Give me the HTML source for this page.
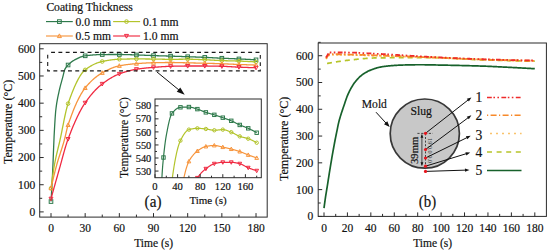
<!DOCTYPE html>
<html><head><meta charset="utf-8"><style>
html,body{margin:0;padding:0;background:#fff;width:550px;height:251px;overflow:hidden}
svg{display:block}
text{stroke:#111;stroke-width:0.18px;paint-order:fill}
</style></head><body>
<svg width="550" height="251" viewBox="0 0 550 251" font-family='"Liberation Serif", serif'>
<rect width="550" height="251" fill="#ffffff"/>
<defs><clipPath id="cl"><rect x="39.70" y="43.70" width="227.50" height="173.40"/></clipPath>
<clipPath id="ci"><rect x="155.00" y="99.00" width="106.30" height="78.70"/></clipPath>
<clipPath id="cr"><rect x="318.20" y="43.00" width="228.20" height="173.40"/></clipPath>
<marker id="ahs" viewBox="0 0 10 10" refX="9" refY="5" markerWidth="3.5" markerHeight="3.5" orient="auto-start-reverse" markerUnits="userSpaceOnUse"><path d="M0,1 L10,5 L0,9 Z" fill="#111"/></marker>
<marker id="ah" viewBox="0 0 10 10" refX="9" refY="5" markerWidth="6" markerHeight="6" orient="auto-start-reverse" markerUnits="userSpaceOnUse"><path d="M0,1 L10,5 L0,9 Z" fill="#111"/></marker>
</defs>
<g clip-path="url(#cl)">
<path d="M51.00,201.57 L51.51,193.45 L52.03,184.40 L52.54,174.30 L53.06,162.09 L53.57,148.95 L54.08,136.70 L54.60,126.93 L55.11,118.50 L55.62,111.79 L56.14,107.30 L56.65,103.66 L57.17,100.59 L57.68,97.92 L58.19,95.45 L58.71,93.02 L59.22,90.68 L59.74,88.49 L60.25,86.43 L60.76,84.46 L61.28,82.56 L61.79,80.68 L62.30,78.81 L62.82,76.90 L63.33,74.85 L63.85,72.72 L64.36,70.80 L64.87,69.38 L65.39,68.40 L65.90,67.57 L66.42,66.86 L66.93,66.24 L67.44,65.68 L67.96,65.14 L68.47,64.61 L68.98,64.11 L69.50,63.62 L70.01,63.15 L70.53,62.71 L71.04,62.29 L71.55,61.88 L72.07,61.51 L72.58,61.15 L73.09,60.82 L73.61,60.51 L74.12,60.22 L74.64,59.94 L75.15,59.66 L75.66,59.38 L76.18,59.11 L76.69,58.84 L77.21,58.58 L77.72,58.32 L78.23,58.08 L78.75,57.84 L79.26,57.60 L79.77,57.38 L80.29,57.17 L80.80,56.97 L81.32,56.78 L81.83,56.61 L82.34,56.45 L82.86,56.30 L83.37,56.16 L83.89,56.05 L84.40,55.94 L84.91,55.86 L85.43,55.79 L85.94,55.72 L86.45,55.66 L86.97,55.59 L87.48,55.53 L88.00,55.47 L88.51,55.41 L89.02,55.36 L89.54,55.30 L90.05,55.25 L90.57,55.20 L91.08,55.15 L91.59,55.10 L92.11,55.05 L92.62,55.01 L93.13,54.97 L93.65,54.92 L94.16,54.89 L94.68,54.85 L95.19,54.81 L95.70,54.78 L96.22,54.75 L96.73,54.72 L97.25,54.69 L97.76,54.67 L98.27,54.65 L98.79,54.63 L99.30,54.61 L99.81,54.59 L100.33,54.58 L100.84,54.57 L101.36,54.56 L101.87,54.56 L102.38,54.55 L102.90,54.55 L103.41,54.55 L103.92,54.54 L104.44,54.54 L104.95,54.54 L105.47,54.53 L105.98,54.53 L106.49,54.53 L107.01,54.53 L107.52,54.53 L108.04,54.52 L108.55,54.52 L109.06,54.52 L109.58,54.52 L110.09,54.52 L110.60,54.51 L111.12,54.51 L111.63,54.51 L112.15,54.51 L112.66,54.51 L113.17,54.51 L113.69,54.50 L114.20,54.50 L114.72,54.50 L115.23,54.50 L115.74,54.50 L116.26,54.50 L116.77,54.50 L117.28,54.50 L117.80,54.50 L118.31,54.50 L118.83,54.50 L119.34,54.50 L119.85,54.50 L120.37,54.50 L120.88,54.50 L121.40,54.51 L121.91,54.51 L122.42,54.52 L122.94,54.53 L123.45,54.54 L123.96,54.55 L124.48,54.56 L124.99,54.57 L125.51,54.58 L126.02,54.60 L126.53,54.61 L127.05,54.62 L127.56,54.64 L128.08,54.65 L128.59,54.67 L129.10,54.69 L129.62,54.70 L130.13,54.72 L130.64,54.74 L131.16,54.76 L131.67,54.77 L132.19,54.79 L132.70,54.81 L133.21,54.83 L133.73,54.84 L134.24,54.86 L134.76,54.88 L135.27,54.89 L135.78,54.91 L136.30,54.93 L136.81,54.94 L137.32,54.96 L137.84,54.98 L138.35,54.99 L138.87,55.01 L139.38,55.03 L139.89,55.05 L140.41,55.07 L140.92,55.09 L141.43,55.11 L141.95,55.13 L142.46,55.16 L142.98,55.18 L143.49,55.20 L144.00,55.22 L144.52,55.24 L145.03,55.26 L145.55,55.29 L146.06,55.31 L146.57,55.33 L147.09,55.35 L147.60,55.37 L148.11,55.40 L148.63,55.42 L149.14,55.44 L149.66,55.46 L150.17,55.48 L150.68,55.50 L151.20,55.52 L151.71,55.54 L152.23,55.56 L152.74,55.58 L153.25,55.60 L153.77,55.62 L154.28,55.63 L154.79,55.65 L155.31,55.67 L155.82,55.68 L156.34,55.70 L156.85,55.71 L157.36,55.73 L157.88,55.75 L158.39,55.76 L158.91,55.78 L159.42,55.79 L159.93,55.81 L160.45,55.82 L160.96,55.84 L161.47,55.85 L161.99,55.87 L162.50,55.88 L163.02,55.89 L163.53,55.91 L164.04,55.92 L164.56,55.94 L165.07,55.95 L165.59,55.97 L166.10,55.98 L166.61,56.00 L167.13,56.01 L167.64,56.03 L168.15,56.04 L168.67,56.06 L169.18,56.07 L169.70,56.09 L170.21,56.11 L170.72,56.12 L171.24,56.14 L171.75,56.16 L172.26,56.17 L172.78,56.19 L173.29,56.21 L173.81,56.23 L174.32,56.24 L174.83,56.26 L175.35,56.28 L175.86,56.29 L176.38,56.31 L176.89,56.33 L177.40,56.35 L177.92,56.37 L178.43,56.38 L178.94,56.40 L179.46,56.42 L179.97,56.44 L180.49,56.46 L181.00,56.47 L181.51,56.49 L182.03,56.51 L182.54,56.53 L183.06,56.55 L183.57,56.57 L184.08,56.58 L184.60,56.60 L185.11,56.62 L185.62,56.64 L186.14,56.66 L186.65,56.68 L187.17,56.70 L187.68,56.71 L188.19,56.73 L188.71,56.75 L189.22,56.77 L189.74,56.79 L190.25,56.81 L190.76,56.83 L191.28,56.84 L191.79,56.86 L192.30,56.88 L192.82,56.90 L193.33,56.92 L193.85,56.94 L194.36,56.95 L194.87,56.97 L195.39,56.99 L195.90,57.01 L196.42,57.03 L196.93,57.05 L197.44,57.07 L197.96,57.09 L198.47,57.11 L198.98,57.13 L199.50,57.15 L200.01,57.17 L200.53,57.19 L201.04,57.21 L201.55,57.23 L202.07,57.25 L202.58,57.27 L203.10,57.29 L203.61,57.31 L204.12,57.33 L204.64,57.36 L205.15,57.38 L205.66,57.40 L206.18,57.43 L206.69,57.45 L207.21,57.47 L207.72,57.50 L208.23,57.52 L208.75,57.55 L209.26,57.58 L209.77,57.60 L210.29,57.63 L210.80,57.66 L211.32,57.68 L211.83,57.71 L212.34,57.74 L212.86,57.77 L213.37,57.79 L213.89,57.82 L214.40,57.85 L214.91,57.88 L215.43,57.90 L215.94,57.93 L216.45,57.96 L216.97,57.99 L217.48,58.01 L218.00,58.04 L218.51,58.07 L219.02,58.09 L219.54,58.12 L220.05,58.14 L220.57,58.17 L221.08,58.19 L221.59,58.22 L222.11,58.24 L222.62,58.26 L223.13,58.28 L223.65,58.31 L224.16,58.33 L224.68,58.35 L225.19,58.37 L225.70,58.39 L226.22,58.41 L226.73,58.43 L227.25,58.45 L227.76,58.47 L228.27,58.49 L228.79,58.51 L229.30,58.53 L229.81,58.55 L230.33,58.57 L230.84,58.59 L231.36,58.61 L231.87,58.63 L232.38,58.65 L232.90,58.67 L233.41,58.69 L233.93,58.71 L234.44,58.73 L234.95,58.76 L235.47,58.78 L235.98,58.80 L236.49,58.82 L237.01,58.84 L237.52,58.87 L238.04,58.89 L238.55,58.91 L239.06,58.94 L239.58,58.96 L240.09,58.98 L240.60,59.01 L241.12,59.03 L241.63,59.06 L242.15,59.08 L242.66,59.11 L243.17,59.14 L243.69,59.16 L244.20,59.19 L244.72,59.21 L245.23,59.24 L245.74,59.27 L246.26,59.29 L246.77,59.32 L247.28,59.35 L247.80,59.38 L248.31,59.41 L248.83,59.43 L249.34,59.46 L249.85,59.49 L250.37,59.52 L250.88,59.55 L251.40,59.58 L251.91,59.61 L252.42,59.64 L252.94,59.67 L253.45,59.70 L253.96,59.73 L254.48,59.76 L254.99,59.79 L255.51,59.82 L256.02,59.85" fill="none" stroke="#2f7a4c" stroke-width="1.3"/>
<rect x="49.20" y="199.77" width="3.60" height="3.60" fill="none" stroke="#2f7a4c" stroke-width="1"/>
<rect x="66.29" y="63.21" width="3.60" height="3.60" fill="none" stroke="#2f7a4c" stroke-width="1"/>
<rect x="83.37" y="54.02" width="3.60" height="3.60" fill="none" stroke="#2f7a4c" stroke-width="1"/>
<rect x="100.45" y="52.75" width="3.60" height="3.60" fill="none" stroke="#2f7a4c" stroke-width="1"/>
<rect x="117.54" y="52.70" width="3.60" height="3.60" fill="none" stroke="#2f7a4c" stroke-width="1"/>
<rect x="134.62" y="53.13" width="3.60" height="3.60" fill="none" stroke="#2f7a4c" stroke-width="1"/>
<rect x="151.71" y="53.81" width="3.60" height="3.60" fill="none" stroke="#2f7a4c" stroke-width="1"/>
<rect x="168.79" y="54.32" width="3.60" height="3.60" fill="none" stroke="#2f7a4c" stroke-width="1"/>
<rect x="185.88" y="54.91" width="3.60" height="3.60" fill="none" stroke="#2f7a4c" stroke-width="1"/>
<rect x="202.97" y="55.56" width="3.60" height="3.60" fill="none" stroke="#2f7a4c" stroke-width="1"/>
<rect x="220.05" y="56.43" width="3.60" height="3.60" fill="none" stroke="#2f7a4c" stroke-width="1"/>
<rect x="237.13" y="57.13" width="3.60" height="3.60" fill="none" stroke="#2f7a4c" stroke-width="1"/>
<rect x="254.22" y="58.05" width="3.60" height="3.60" fill="none" stroke="#2f7a4c" stroke-width="1"/>
<path d="M51.00,188.21 L51.51,184.29 L52.03,180.48 L52.54,176.80 L53.06,173.29 L53.57,169.96 L54.08,166.86 L54.60,164.00 L55.11,161.34 L55.62,158.84 L56.14,156.47 L56.65,154.21 L57.17,152.02 L57.68,149.89 L58.19,147.77 L58.71,145.65 L59.22,143.49 L59.74,141.28 L60.25,138.98 L60.76,136.58 L61.28,134.10 L61.79,131.56 L62.30,128.98 L62.82,126.39 L63.33,123.80 L63.85,121.23 L64.36,118.71 L64.87,116.25 L65.39,113.88 L65.90,111.61 L66.42,109.47 L66.93,107.48 L67.44,105.65 L67.96,104.02 L68.47,102.54 L68.98,101.08 L69.50,99.64 L70.01,98.23 L70.53,96.84 L71.04,95.47 L71.55,94.12 L72.07,92.80 L72.58,91.50 L73.09,90.24 L73.61,88.99 L74.12,87.78 L74.64,86.59 L75.15,85.43 L75.66,84.31 L76.18,83.21 L76.69,82.15 L77.21,81.11 L77.72,80.12 L78.23,79.15 L78.75,78.22 L79.26,77.33 L79.77,76.47 L80.29,75.65 L80.80,74.87 L81.32,74.13 L81.83,73.42 L82.34,72.76 L82.86,72.14 L83.37,71.56 L83.89,71.02 L84.40,70.53 L84.91,70.08 L85.43,69.67 L85.94,69.28 L86.45,68.89 L86.97,68.52 L87.48,68.15 L88.00,67.80 L88.51,67.45 L89.02,67.11 L89.54,66.78 L90.05,66.46 L90.57,66.15 L91.08,65.85 L91.59,65.56 L92.11,65.28 L92.62,65.01 L93.13,64.74 L93.65,64.49 L94.16,64.24 L94.68,64.00 L95.19,63.77 L95.70,63.55 L96.22,63.34 L96.73,63.14 L97.25,62.95 L97.76,62.76 L98.27,62.58 L98.79,62.42 L99.30,62.26 L99.81,62.10 L100.33,61.96 L100.84,61.83 L101.36,61.70 L101.87,61.58 L102.38,61.47 L102.90,61.36 L103.41,61.26 L103.92,61.15 L104.44,61.05 L104.95,60.95 L105.47,60.85 L105.98,60.75 L106.49,60.66 L107.01,60.57 L107.52,60.48 L108.04,60.39 L108.55,60.30 L109.06,60.22 L109.58,60.14 L110.09,60.06 L110.60,59.99 L111.12,59.91 L111.63,59.84 L112.15,59.78 L112.66,59.71 L113.17,59.65 L113.69,59.59 L114.20,59.54 L114.72,59.49 L115.23,59.44 L115.74,59.40 L116.26,59.36 L116.77,59.32 L117.28,59.29 L117.80,59.26 L118.31,59.24 L118.83,59.22 L119.34,59.20 L119.85,59.19 L120.37,59.17 L120.88,59.16 L121.40,59.14 L121.91,59.13 L122.42,59.12 L122.94,59.11 L123.45,59.09 L123.96,59.08 L124.48,59.07 L124.99,59.06 L125.51,59.05 L126.02,59.04 L126.53,59.03 L127.05,59.02 L127.56,59.01 L128.08,59.00 L128.59,58.99 L129.10,58.98 L129.62,58.98 L130.13,58.97 L130.64,58.96 L131.16,58.96 L131.67,58.95 L132.19,58.95 L132.70,58.94 L133.21,58.94 L133.73,58.94 L134.24,58.93 L134.76,58.93 L135.27,58.93 L135.78,58.93 L136.30,58.93 L136.81,58.93 L137.32,58.93 L137.84,58.93 L138.35,58.93 L138.87,58.93 L139.38,58.94 L139.89,58.94 L140.41,58.94 L140.92,58.94 L141.43,58.95 L141.95,58.95 L142.46,58.95 L142.98,58.96 L143.49,58.96 L144.00,58.97 L144.52,58.97 L145.03,58.97 L145.55,58.98 L146.06,58.98 L146.57,58.99 L147.09,59.00 L147.60,59.00 L148.11,59.01 L148.63,59.01 L149.14,59.02 L149.66,59.02 L150.17,59.03 L150.68,59.03 L151.20,59.04 L151.71,59.05 L152.23,59.05 L152.74,59.06 L153.25,59.06 L153.77,59.07 L154.28,59.07 L154.79,59.08 L155.31,59.09 L155.82,59.10 L156.34,59.10 L156.85,59.11 L157.36,59.12 L157.88,59.13 L158.39,59.14 L158.91,59.15 L159.42,59.17 L159.93,59.18 L160.45,59.19 L160.96,59.20 L161.47,59.21 L161.99,59.22 L162.50,59.23 L163.02,59.24 L163.53,59.25 L164.04,59.26 L164.56,59.27 L165.07,59.28 L165.59,59.29 L166.10,59.30 L166.61,59.30 L167.13,59.31 L167.64,59.32 L168.15,59.32 L168.67,59.33 L169.18,59.33 L169.70,59.33 L170.21,59.33 L170.72,59.33 L171.24,59.33 L171.75,59.33 L172.26,59.33 L172.78,59.33 L173.29,59.33 L173.81,59.32 L174.32,59.32 L174.83,59.31 L175.35,59.31 L175.86,59.30 L176.38,59.30 L176.89,59.29 L177.40,59.29 L177.92,59.28 L178.43,59.28 L178.94,59.27 L179.46,59.26 L179.97,59.26 L180.49,59.25 L181.00,59.25 L181.51,59.24 L182.03,59.23 L182.54,59.23 L183.06,59.22 L183.57,59.22 L184.08,59.21 L184.60,59.21 L185.11,59.21 L185.62,59.20 L186.14,59.20 L186.65,59.20 L187.17,59.20 L187.68,59.20 L188.19,59.20 L188.71,59.20 L189.22,59.21 L189.74,59.21 L190.25,59.22 L190.76,59.23 L191.28,59.24 L191.79,59.25 L192.30,59.26 L192.82,59.27 L193.33,59.29 L193.85,59.30 L194.36,59.32 L194.87,59.34 L195.39,59.36 L195.90,59.37 L196.42,59.39 L196.93,59.41 L197.44,59.43 L197.96,59.45 L198.47,59.48 L198.98,59.50 L199.50,59.52 L200.01,59.54 L200.53,59.56 L201.04,59.59 L201.55,59.61 L202.07,59.63 L202.58,59.65 L203.10,59.67 L203.61,59.69 L204.12,59.71 L204.64,59.73 L205.15,59.76 L205.66,59.78 L206.18,59.80 L206.69,59.82 L207.21,59.85 L207.72,59.87 L208.23,59.90 L208.75,59.92 L209.26,59.95 L209.77,59.98 L210.29,60.01 L210.80,60.04 L211.32,60.06 L211.83,60.09 L212.34,60.12 L212.86,60.15 L213.37,60.18 L213.89,60.21 L214.40,60.24 L214.91,60.27 L215.43,60.30 L215.94,60.33 L216.45,60.35 L216.97,60.38 L217.48,60.41 L218.00,60.43 L218.51,60.46 L219.02,60.48 L219.54,60.51 L220.05,60.53 L220.57,60.55 L221.08,60.57 L221.59,60.59 L222.11,60.61 L222.62,60.63 L223.13,60.65 L223.65,60.67 L224.16,60.68 L224.68,60.70 L225.19,60.71 L225.70,60.73 L226.22,60.74 L226.73,60.76 L227.25,60.77 L227.76,60.78 L228.27,60.80 L228.79,60.81 L229.30,60.82 L229.81,60.83 L230.33,60.85 L230.84,60.86 L231.36,60.87 L231.87,60.88 L232.38,60.90 L232.90,60.91 L233.41,60.92 L233.93,60.94 L234.44,60.95 L234.95,60.97 L235.47,60.98 L235.98,60.99 L236.49,61.01 L237.01,61.03 L237.52,61.04 L238.04,61.06 L238.55,61.08 L239.06,61.10 L239.58,61.11 L240.09,61.13 L240.60,61.15 L241.12,61.17 L241.63,61.19 L242.15,61.22 L242.66,61.24 L243.17,61.26 L243.69,61.28 L244.20,61.30 L244.72,61.33 L245.23,61.35 L245.74,61.38 L246.26,61.40 L246.77,61.42 L247.28,61.45 L247.80,61.48 L248.31,61.50 L248.83,61.53 L249.34,61.55 L249.85,61.58 L250.37,61.61 L250.88,61.64 L251.40,61.66 L251.91,61.69 L252.42,61.72 L252.94,61.75 L253.45,61.78 L253.96,61.81 L254.48,61.84 L254.99,61.87 L255.51,61.90 L256.02,61.93" fill="none" stroke="#b3c42c" stroke-width="1.3"/>
<circle cx="51.00" cy="188.21" r="1.80" fill="none" stroke="#b3c42c" stroke-width="1"/>
<circle cx="68.09" cy="103.64" r="1.80" fill="none" stroke="#b3c42c" stroke-width="1"/>
<circle cx="85.17" cy="69.87" r="1.80" fill="none" stroke="#b3c42c" stroke-width="1"/>
<circle cx="102.25" cy="61.50" r="1.80" fill="none" stroke="#b3c42c" stroke-width="1"/>
<circle cx="119.34" cy="59.20" r="1.80" fill="none" stroke="#b3c42c" stroke-width="1"/>
<circle cx="136.43" cy="58.93" r="1.80" fill="none" stroke="#b3c42c" stroke-width="1"/>
<circle cx="153.51" cy="59.06" r="1.80" fill="none" stroke="#b3c42c" stroke-width="1"/>
<circle cx="170.59" cy="59.33" r="1.80" fill="none" stroke="#b3c42c" stroke-width="1"/>
<circle cx="187.68" cy="59.20" r="1.80" fill="none" stroke="#b3c42c" stroke-width="1"/>
<circle cx="204.77" cy="59.74" r="1.80" fill="none" stroke="#b3c42c" stroke-width="1"/>
<circle cx="221.85" cy="60.60" r="1.80" fill="none" stroke="#b3c42c" stroke-width="1"/>
<circle cx="238.94" cy="61.09" r="1.80" fill="none" stroke="#b3c42c" stroke-width="1"/>
<circle cx="256.02" cy="61.93" r="1.80" fill="none" stroke="#b3c42c" stroke-width="1"/>
<path d="M51.00,188.21 L51.51,185.94 L52.03,183.70 L52.54,181.50 L53.06,179.32 L53.57,177.17 L54.08,175.06 L54.60,172.99 L55.11,170.96 L55.62,168.97 L56.14,167.03 L56.65,165.13 L57.17,163.29 L57.68,161.52 L58.19,159.81 L58.71,158.15 L59.22,156.52 L59.74,154.93 L60.25,153.35 L60.76,151.77 L61.28,150.19 L61.79,148.60 L62.30,146.97 L62.82,145.31 L63.33,143.60 L63.85,141.83 L64.36,139.99 L64.87,138.00 L65.39,135.83 L65.90,133.59 L66.42,131.34 L66.93,129.17 L67.44,127.16 L67.96,125.38 L68.47,123.83 L68.98,122.32 L69.50,120.83 L70.01,119.36 L70.53,117.92 L71.04,116.50 L71.55,115.10 L72.07,113.74 L72.58,112.40 L73.09,111.08 L73.61,109.79 L74.12,108.52 L74.64,107.29 L75.15,106.07 L75.66,104.89 L76.18,103.73 L76.69,102.60 L77.21,101.49 L77.72,100.42 L78.23,99.37 L78.75,98.34 L79.26,97.35 L79.77,96.38 L80.29,95.44 L80.80,94.53 L81.32,93.65 L81.83,92.80 L82.34,91.98 L82.86,91.18 L83.37,90.42 L83.89,89.68 L84.40,88.98 L84.91,88.30 L85.43,87.65 L85.94,87.02 L86.45,86.40 L86.97,85.79 L87.48,85.19 L88.00,84.61 L88.51,84.04 L89.02,83.48 L89.54,82.94 L90.05,82.40 L90.57,81.88 L91.08,81.37 L91.59,80.87 L92.11,80.38 L92.62,79.90 L93.13,79.43 L93.65,78.98 L94.16,78.53 L94.68,78.10 L95.19,77.68 L95.70,77.26 L96.22,76.86 L96.73,76.47 L97.25,76.08 L97.76,75.71 L98.27,75.35 L98.79,74.99 L99.30,74.65 L99.81,74.31 L100.33,73.99 L100.84,73.67 L101.36,73.36 L101.87,73.06 L102.38,72.77 L102.90,72.48 L103.41,72.20 L103.92,71.92 L104.44,71.64 L104.95,71.37 L105.47,71.10 L105.98,70.83 L106.49,70.57 L107.01,70.31 L107.52,70.05 L108.04,69.80 L108.55,69.56 L109.06,69.32 L109.58,69.08 L110.09,68.85 L110.60,68.63 L111.12,68.41 L111.63,68.20 L112.15,67.99 L112.66,67.79 L113.17,67.59 L113.69,67.40 L114.20,67.22 L114.72,67.05 L115.23,66.88 L115.74,66.72 L116.26,66.57 L116.77,66.42 L117.28,66.28 L117.80,66.16 L118.31,66.03 L118.83,65.92 L119.34,65.82 L119.85,65.72 L120.37,65.63 L120.88,65.53 L121.40,65.44 L121.91,65.35 L122.42,65.27 L122.94,65.18 L123.45,65.10 L123.96,65.02 L124.48,64.95 L124.99,64.87 L125.51,64.80 L126.02,64.73 L126.53,64.66 L127.05,64.59 L127.56,64.53 L128.08,64.47 L128.59,64.40 L129.10,64.35 L129.62,64.29 L130.13,64.23 L130.64,64.18 L131.16,64.12 L131.67,64.07 L132.19,64.02 L132.70,63.97 L133.21,63.93 L133.73,63.88 L134.24,63.84 L134.76,63.79 L135.27,63.75 L135.78,63.71 L136.30,63.67 L136.81,63.63 L137.32,63.59 L137.84,63.55 L138.35,63.51 L138.87,63.47 L139.38,63.44 L139.89,63.40 L140.41,63.36 L140.92,63.33 L141.43,63.29 L141.95,63.25 L142.46,63.22 L142.98,63.19 L143.49,63.15 L144.00,63.12 L144.52,63.09 L145.03,63.06 L145.55,63.03 L146.06,63.00 L146.57,62.97 L147.09,62.95 L147.60,62.92 L148.11,62.90 L148.63,62.87 L149.14,62.85 L149.66,62.83 L150.17,62.81 L150.68,62.79 L151.20,62.77 L151.71,62.76 L152.23,62.74 L152.74,62.73 L153.25,62.72 L153.77,62.71 L154.28,62.70 L154.79,62.69 L155.31,62.68 L155.82,62.67 L156.34,62.66 L156.85,62.65 L157.36,62.64 L157.88,62.63 L158.39,62.62 L158.91,62.61 L159.42,62.60 L159.93,62.59 L160.45,62.58 L160.96,62.58 L161.47,62.57 L161.99,62.56 L162.50,62.55 L163.02,62.55 L163.53,62.54 L164.04,62.53 L164.56,62.53 L165.07,62.52 L165.59,62.52 L166.10,62.51 L166.61,62.51 L167.13,62.51 L167.64,62.50 L168.15,62.50 L168.67,62.50 L169.18,62.50 L169.70,62.50 L170.21,62.50 L170.72,62.50 L171.24,62.50 L171.75,62.50 L172.26,62.50 L172.78,62.51 L173.29,62.51 L173.81,62.52 L174.32,62.52 L174.83,62.53 L175.35,62.54 L175.86,62.55 L176.38,62.56 L176.89,62.57 L177.40,62.58 L177.92,62.59 L178.43,62.61 L178.94,62.62 L179.46,62.63 L179.97,62.65 L180.49,62.66 L181.00,62.67 L181.51,62.69 L182.03,62.70 L182.54,62.72 L183.06,62.73 L183.57,62.74 L184.08,62.76 L184.60,62.77 L185.11,62.78 L185.62,62.80 L186.14,62.81 L186.65,62.82 L187.17,62.84 L187.68,62.85 L188.19,62.86 L188.71,62.87 L189.22,62.88 L189.74,62.89 L190.25,62.90 L190.76,62.92 L191.28,62.93 L191.79,62.94 L192.30,62.95 L192.82,62.96 L193.33,62.97 L193.85,62.98 L194.36,63.00 L194.87,63.01 L195.39,63.02 L195.90,63.03 L196.42,63.04 L196.93,63.06 L197.44,63.07 L197.96,63.08 L198.47,63.09 L198.98,63.11 L199.50,63.12 L200.01,63.13 L200.53,63.14 L201.04,63.16 L201.55,63.17 L202.07,63.18 L202.58,63.20 L203.10,63.21 L203.61,63.22 L204.12,63.24 L204.64,63.25 L205.15,63.26 L205.66,63.28 L206.18,63.29 L206.69,63.30 L207.21,63.32 L207.72,63.33 L208.23,63.35 L208.75,63.36 L209.26,63.37 L209.77,63.39 L210.29,63.40 L210.80,63.42 L211.32,63.43 L211.83,63.45 L212.34,63.46 L212.86,63.48 L213.37,63.49 L213.89,63.51 L214.40,63.52 L214.91,63.54 L215.43,63.56 L215.94,63.57 L216.45,63.59 L216.97,63.60 L217.48,63.62 L218.00,63.64 L218.51,63.65 L219.02,63.67 L219.54,63.69 L220.05,63.70 L220.57,63.72 L221.08,63.74 L221.59,63.76 L222.11,63.77 L222.62,63.79 L223.13,63.81 L223.65,63.83 L224.16,63.85 L224.68,63.87 L225.19,63.89 L225.70,63.91 L226.22,63.93 L226.73,63.95 L227.25,63.97 L227.76,64.00 L228.27,64.02 L228.79,64.04 L229.30,64.06 L229.81,64.08 L230.33,64.11 L230.84,64.13 L231.36,64.15 L231.87,64.17 L232.38,64.19 L232.90,64.22 L233.41,64.24 L233.93,64.26 L234.44,64.28 L234.95,64.31 L235.47,64.33 L235.98,64.35 L236.49,64.37 L237.01,64.39 L237.52,64.41 L238.04,64.43 L238.55,64.45 L239.06,64.47 L239.58,64.49 L240.09,64.51 L240.60,64.53 L241.12,64.55 L241.63,64.57 L242.15,64.59 L242.66,64.61 L243.17,64.63 L243.69,64.65 L244.20,64.67 L244.72,64.69 L245.23,64.71 L245.74,64.72 L246.26,64.74 L246.77,64.76 L247.28,64.78 L247.80,64.80 L248.31,64.82 L248.83,64.84 L249.34,64.86 L249.85,64.87 L250.37,64.89 L250.88,64.91 L251.40,64.93 L251.91,64.95 L252.42,64.97 L252.94,64.98 L253.45,65.00 L253.96,65.02 L254.48,65.04 L254.99,65.05 L255.51,65.07 L256.02,65.09" fill="none" stroke="#f7953d" stroke-width="1.3"/>
<path d="M51.00,186.14 L52.98,189.76 L49.02,189.76 Z" fill="none" stroke="#f7953d" stroke-width="1"/>
<path d="M68.09,122.92 L70.07,126.54 L66.11,126.54 Z" fill="none" stroke="#f7953d" stroke-width="1"/>
<path d="M85.17,85.90 L87.15,89.53 L83.19,89.53 Z" fill="none" stroke="#f7953d" stroke-width="1"/>
<path d="M102.25,70.77 L104.23,74.40 L100.27,74.40 Z" fill="none" stroke="#f7953d" stroke-width="1"/>
<path d="M119.34,63.75 L121.32,67.37 L117.36,67.37 Z" fill="none" stroke="#f7953d" stroke-width="1"/>
<path d="M136.43,61.59 L138.41,65.21 L134.45,65.21 Z" fill="none" stroke="#f7953d" stroke-width="1"/>
<path d="M153.51,60.64 L155.49,64.26 L151.53,64.26 Z" fill="none" stroke="#f7953d" stroke-width="1"/>
<path d="M170.59,60.43 L172.57,64.05 L168.62,64.05 Z" fill="none" stroke="#f7953d" stroke-width="1"/>
<path d="M187.68,60.78 L189.66,64.40 L185.70,64.40 Z" fill="none" stroke="#f7953d" stroke-width="1"/>
<path d="M204.77,61.18 L206.75,64.80 L202.79,64.80 Z" fill="none" stroke="#f7953d" stroke-width="1"/>
<path d="M221.85,61.70 L223.83,65.32 L219.87,65.32 Z" fill="none" stroke="#f7953d" stroke-width="1"/>
<path d="M238.94,62.40 L240.91,66.02 L236.96,66.02 Z" fill="none" stroke="#f7953d" stroke-width="1"/>
<path d="M256.02,63.02 L258.00,66.64 L254.04,66.64 Z" fill="none" stroke="#f7953d" stroke-width="1"/>
<path d="M51.00,198.74 L51.51,196.89 L52.03,195.04 L52.54,193.19 L53.06,191.34 L53.57,189.50 L54.08,187.67 L54.60,185.83 L55.11,184.00 L55.62,182.18 L56.14,180.35 L56.65,178.54 L57.17,176.72 L57.68,174.91 L58.19,173.11 L58.71,171.30 L59.22,169.50 L59.74,167.67 L60.25,165.81 L60.76,163.94 L61.28,162.05 L61.79,160.15 L62.30,158.26 L62.82,156.37 L63.33,154.49 L63.85,152.64 L64.36,150.81 L64.87,149.02 L65.39,147.27 L65.90,145.57 L66.42,143.93 L66.93,142.34 L67.44,140.82 L67.96,139.38 L68.47,138.00 L68.98,136.64 L69.50,135.29 L70.01,133.96 L70.53,132.65 L71.04,131.35 L71.55,130.06 L72.07,128.79 L72.58,127.54 L73.09,126.31 L73.61,125.09 L74.12,123.89 L74.64,122.71 L75.15,121.54 L75.66,120.40 L76.18,119.27 L76.69,118.16 L77.21,117.07 L77.72,116.00 L78.23,114.95 L78.75,113.92 L79.26,112.91 L79.77,111.92 L80.29,110.95 L80.80,110.01 L81.32,109.08 L81.83,108.17 L82.34,107.29 L82.86,106.43 L83.37,105.59 L83.89,104.77 L84.40,103.98 L84.91,103.21 L85.43,102.46 L85.94,101.72 L86.45,101.00 L86.97,100.28 L87.48,99.58 L88.00,98.89 L88.51,98.20 L89.02,97.53 L89.54,96.87 L90.05,96.22 L90.57,95.58 L91.08,94.96 L91.59,94.34 L92.11,93.73 L92.62,93.14 L93.13,92.55 L93.65,91.98 L94.16,91.41 L94.68,90.86 L95.19,90.32 L95.70,89.78 L96.22,89.26 L96.73,88.75 L97.25,88.25 L97.76,87.76 L98.27,87.28 L98.79,86.81 L99.30,86.35 L99.81,85.91 L100.33,85.47 L100.84,85.04 L101.36,84.62 L101.87,84.22 L102.38,83.82 L102.90,83.43 L103.41,83.05 L103.92,82.67 L104.44,82.29 L104.95,81.92 L105.47,81.55 L105.98,81.19 L106.49,80.84 L107.01,80.49 L107.52,80.15 L108.04,79.81 L108.55,79.47 L109.06,79.15 L109.58,78.82 L110.09,78.51 L110.60,78.20 L111.12,77.89 L111.63,77.60 L112.15,77.30 L112.66,77.02 L113.17,76.74 L113.69,76.47 L114.20,76.20 L114.72,75.94 L115.23,75.69 L115.74,75.44 L116.26,75.21 L116.77,74.97 L117.28,74.75 L117.80,74.53 L118.31,74.32 L118.83,74.12 L119.34,73.92 L119.85,73.73 L120.37,73.55 L120.88,73.36 L121.40,73.18 L121.91,73.00 L122.42,72.82 L122.94,72.65 L123.45,72.48 L123.96,72.31 L124.48,72.14 L124.99,71.98 L125.51,71.82 L126.02,71.67 L126.53,71.51 L127.05,71.36 L127.56,71.22 L128.08,71.07 L128.59,70.93 L129.10,70.80 L129.62,70.66 L130.13,70.54 L130.64,70.41 L131.16,70.29 L131.67,70.17 L132.19,70.05 L132.70,69.94 L133.21,69.83 L133.73,69.73 L134.24,69.63 L134.76,69.53 L135.27,69.44 L135.78,69.35 L136.30,69.27 L136.81,69.19 L137.32,69.11 L137.84,69.03 L138.35,68.96 L138.87,68.89 L139.38,68.81 L139.89,68.74 L140.41,68.68 L140.92,68.61 L141.43,68.55 L141.95,68.48 L142.46,68.42 L142.98,68.36 L143.49,68.30 L144.00,68.24 L144.52,68.19 L145.03,68.13 L145.55,68.08 L146.06,68.02 L146.57,67.97 L147.09,67.92 L147.60,67.87 L148.11,67.82 L148.63,67.77 L149.14,67.73 L149.66,67.68 L150.17,67.64 L150.68,67.59 L151.20,67.55 L151.71,67.50 L152.23,67.46 L152.74,67.42 L153.25,67.38 L153.77,67.34 L154.28,67.30 L154.79,67.26 L155.31,67.22 L155.82,67.18 L156.34,67.14 L156.85,67.10 L157.36,67.06 L157.88,67.02 L158.39,66.98 L158.91,66.94 L159.42,66.90 L159.93,66.87 L160.45,66.83 L160.96,66.79 L161.47,66.76 L161.99,66.72 L162.50,66.69 L163.02,66.66 L163.53,66.63 L164.04,66.60 L164.56,66.57 L165.07,66.54 L165.59,66.51 L166.10,66.48 L166.61,66.46 L167.13,66.43 L167.64,66.41 L168.15,66.39 L168.67,66.37 L169.18,66.35 L169.70,66.33 L170.21,66.32 L170.72,66.30 L171.24,66.29 L171.75,66.27 L172.26,66.26 L172.78,66.25 L173.29,66.23 L173.81,66.22 L174.32,66.21 L174.83,66.19 L175.35,66.18 L175.86,66.17 L176.38,66.16 L176.89,66.15 L177.40,66.13 L177.92,66.12 L178.43,66.11 L178.94,66.10 L179.46,66.09 L179.97,66.08 L180.49,66.07 L181.00,66.07 L181.51,66.06 L182.03,66.05 L182.54,66.04 L183.06,66.04 L183.57,66.03 L184.08,66.03 L184.60,66.02 L185.11,66.02 L185.62,66.01 L186.14,66.01 L186.65,66.01 L187.17,66.01 L187.68,66.01 L188.19,66.01 L188.71,66.01 L189.22,66.01 L189.74,66.01 L190.25,66.01 L190.76,66.01 L191.28,66.01 L191.79,66.01 L192.30,66.01 L192.82,66.01 L193.33,66.01 L193.85,66.01 L194.36,66.01 L194.87,66.01 L195.39,66.01 L195.90,66.01 L196.42,66.01 L196.93,66.01 L197.44,66.01 L197.96,66.01 L198.47,66.01 L198.98,66.01 L199.50,66.01 L200.01,66.01 L200.53,66.01 L201.04,66.01 L201.55,66.01 L202.07,66.01 L202.58,66.01 L203.10,66.01 L203.61,66.01 L204.12,66.01 L204.64,66.01 L205.15,66.01 L205.66,66.01 L206.18,66.01 L206.69,66.01 L207.21,66.02 L207.72,66.02 L208.23,66.03 L208.75,66.03 L209.26,66.04 L209.77,66.04 L210.29,66.05 L210.80,66.06 L211.32,66.07 L211.83,66.07 L212.34,66.08 L212.86,66.09 L213.37,66.10 L213.89,66.11 L214.40,66.12 L214.91,66.13 L215.43,66.15 L215.94,66.16 L216.45,66.17 L216.97,66.18 L217.48,66.19 L218.00,66.21 L218.51,66.22 L219.02,66.23 L219.54,66.25 L220.05,66.26 L220.57,66.27 L221.08,66.29 L221.59,66.30 L222.11,66.31 L222.62,66.33 L223.13,66.34 L223.65,66.36 L224.16,66.38 L224.68,66.40 L225.19,66.42 L225.70,66.44 L226.22,66.47 L226.73,66.49 L227.25,66.52 L227.76,66.55 L228.27,66.57 L228.79,66.60 L229.30,66.63 L229.81,66.66 L230.33,66.69 L230.84,66.72 L231.36,66.74 L231.87,66.77 L232.38,66.80 L232.90,66.83 L233.41,66.86 L233.93,66.89 L234.44,66.92 L234.95,66.95 L235.47,66.98 L235.98,67.00 L236.49,67.03 L237.01,67.05 L237.52,67.08 L238.04,67.10 L238.55,67.13 L239.06,67.15 L239.58,67.17 L240.09,67.19 L240.60,67.21 L241.12,67.23 L241.63,67.25 L242.15,67.27 L242.66,67.29 L243.17,67.31 L243.69,67.33 L244.20,67.35 L244.72,67.37 L245.23,67.39 L245.74,67.41 L246.26,67.43 L246.77,67.45 L247.28,67.47 L247.80,67.49 L248.31,67.51 L248.83,67.53 L249.34,67.55 L249.85,67.56 L250.37,67.58 L250.88,67.60 L251.40,67.62 L251.91,67.63 L252.42,67.65 L252.94,67.67 L253.45,67.68 L253.96,67.70 L254.48,67.72 L254.99,67.73 L255.51,67.75 L256.02,67.76" fill="none" stroke="#f02a42" stroke-width="1.3"/>
<path d="M51.00,200.81 L52.98,197.19 L49.02,197.19 Z" fill="none" stroke="#f02a42" stroke-width="1"/>
<path d="M68.09,141.10 L70.07,137.48 L66.11,137.48 Z" fill="none" stroke="#f02a42" stroke-width="1"/>
<path d="M85.17,104.90 L87.15,101.28 L83.19,101.28 Z" fill="none" stroke="#f02a42" stroke-width="1"/>
<path d="M102.25,85.99 L104.23,82.37 L100.27,82.37 Z" fill="none" stroke="#f02a42" stroke-width="1"/>
<path d="M119.34,75.99 L121.32,72.37 L117.36,72.37 Z" fill="none" stroke="#f02a42" stroke-width="1"/>
<path d="M136.43,71.32 L138.41,67.70 L134.45,67.70 Z" fill="none" stroke="#f02a42" stroke-width="1"/>
<path d="M153.51,69.43 L155.49,65.81 L151.53,65.81 Z" fill="none" stroke="#f02a42" stroke-width="1"/>
<path d="M170.59,68.38 L172.57,64.75 L168.62,64.75 Z" fill="none" stroke="#f02a42" stroke-width="1"/>
<path d="M187.68,68.08 L189.66,64.46 L185.70,64.46 Z" fill="none" stroke="#f02a42" stroke-width="1"/>
<path d="M204.77,68.08 L206.75,64.46 L202.79,64.46 Z" fill="none" stroke="#f02a42" stroke-width="1"/>
<path d="M221.85,68.38 L223.83,64.75 L219.87,64.75 Z" fill="none" stroke="#f02a42" stroke-width="1"/>
<path d="M238.94,69.21 L240.91,65.59 L236.96,65.59 Z" fill="none" stroke="#f02a42" stroke-width="1"/>
<path d="M256.02,69.83 L258.00,66.21 L254.04,66.21 Z" fill="none" stroke="#f02a42" stroke-width="1"/>
</g>
<rect x="39.7" y="43.7" width="227.50" height="173.40" fill="none" stroke="#2b2b2b" stroke-width="1"/>
<path d="M39.7,211.90 h4 M39.7,198.31 h2.5 M39.7,184.72 h4 M39.7,171.13 h2.5 M39.7,157.53 h4 M39.7,143.94 h2.5 M39.7,130.35 h4 M39.7,116.76 h2.5 M39.7,103.17 h4 M39.7,89.58 h2.5 M39.7,75.98 h4 M39.7,62.39 h2.5 M39.7,48.80 h4 M51.00,217.1 v-4 M68.09,217.1 v-2.5 M85.17,217.1 v-4 M102.25,217.1 v-2.5 M119.34,217.1 v-4 M136.43,217.1 v-2.5 M153.51,217.1 v-4 M170.59,217.1 v-2.5 M187.68,217.1 v-4 M204.77,217.1 v-2.5 M221.85,217.1 v-4 M238.94,217.1 v-2.5 M256.02,217.1 v-4" stroke="#2b2b2b" stroke-width="1" fill="none"/>
<text x="35.3" y="215.80" font-size="11.5" text-anchor="end" fill="#111">0</text>
<text x="35.3" y="188.62" font-size="11.5" text-anchor="end" fill="#111">100</text>
<text x="35.3" y="161.43" font-size="11.5" text-anchor="end" fill="#111">200</text>
<text x="35.3" y="134.25" font-size="11.5" text-anchor="end" fill="#111">300</text>
<text x="35.3" y="107.07" font-size="11.5" text-anchor="end" fill="#111">400</text>
<text x="35.3" y="79.88" font-size="11.5" text-anchor="end" fill="#111">500</text>
<text x="35.3" y="52.70" font-size="11.5" text-anchor="end" fill="#111">600</text>
<text x="51.00" y="231.7" font-size="11.5" text-anchor="middle" fill="#111">0</text>
<text x="85.17" y="231.7" font-size="11.5" text-anchor="middle" fill="#111">30</text>
<text x="119.34" y="231.7" font-size="11.5" text-anchor="middle" fill="#111">60</text>
<text x="153.51" y="231.7" font-size="11.5" text-anchor="middle" fill="#111">90</text>
<text x="187.68" y="231.7" font-size="11.5" text-anchor="middle" fill="#111">120</text>
<text x="221.85" y="231.7" font-size="11.5" text-anchor="middle" fill="#111">150</text>
<text x="256.02" y="231.7" font-size="11.5" text-anchor="middle" fill="#111">180</text>
<text transform="translate(11.6,121.9) rotate(-90)" font-size="12" text-anchor="middle" fill="#111">Temperature (°C)</text>
<text x="153.6" y="246.5" font-size="11.5" text-anchor="middle" fill="#111">Time (s)</text>
<rect x="47.7" y="52.4" width="212.60" height="18.50" fill="none" stroke="#1a1a1a" stroke-width="1.1" stroke-dasharray="3.9,3.4" stroke-dashoffset="3.9"/>
<line x1="157" y1="72" x2="178.90" y2="89.95" stroke="#111" stroke-width="1"/><path d="M184.70,94.70 L176.77,91.76 L180.26,87.50 Z" fill="#111"/>
<rect x="155.00" y="99.00" width="106.30" height="78.70" fill="#fff"/>
<g clip-path="url(#ci)">
<path d="M155.00,813.11 L155.20,782.29 L155.41,748.61 L155.61,712.11 L155.82,671.33 L156.02,623.69 L156.22,573.20 L156.43,524.31 L156.63,481.48 L156.83,446.43 L157.04,414.46 L157.24,387.75 L157.45,368.58 L157.65,353.25 L157.85,340.01 L158.06,328.42 L158.26,318.03 L158.46,308.40 L158.67,299.09 L158.87,289.75 L159.08,280.81 L159.28,272.36 L159.48,264.32 L159.69,256.60 L159.89,249.13 L160.10,241.84 L160.30,234.64 L160.50,227.46 L160.71,220.23 L160.91,212.85 L161.11,204.89 L161.32,196.68 L161.52,188.92 L161.73,182.32 L161.93,177.54 L162.13,173.86 L162.34,170.62 L162.54,167.77 L162.74,165.22 L162.95,162.91 L163.15,160.75 L163.36,158.69 L163.56,156.66 L163.76,154.67 L163.97,152.74 L164.17,150.88 L164.38,149.08 L164.58,147.34 L164.78,145.68 L164.99,144.08 L165.19,142.54 L165.39,141.08 L165.60,139.69 L165.80,138.37 L166.01,137.12 L166.21,135.95 L166.41,134.84 L166.62,133.75 L166.82,132.66 L167.02,131.59 L167.23,130.52 L167.43,129.47 L167.64,128.44 L167.84,127.42 L168.04,126.42 L168.25,125.44 L168.45,124.49 L168.66,123.55 L168.86,122.65 L169.06,121.77 L169.27,120.93 L169.47,120.11 L169.67,119.33 L169.88,118.58 L170.08,117.87 L170.29,117.20 L170.49,116.57 L170.69,115.98 L170.90,115.44 L171.10,114.94 L171.30,114.49 L171.51,114.09 L171.71,113.74 L171.92,113.45 L172.12,113.19 L172.32,112.94 L172.53,112.69 L172.73,112.44 L172.94,112.20 L173.14,111.97 L173.34,111.74 L173.55,111.51 L173.75,111.29 L173.95,111.08 L174.16,110.87 L174.36,110.66 L174.57,110.46 L174.77,110.27 L174.97,110.08 L175.18,109.89 L175.38,109.72 L175.58,109.54 L175.79,109.38 L175.99,109.22 L176.20,109.06 L176.40,108.91 L176.60,108.77 L176.81,108.63 L177.01,108.50 L177.22,108.38 L177.42,108.26 L177.62,108.15 L177.83,108.05 L178.03,107.95 L178.23,107.86 L178.44,107.77 L178.64,107.69 L178.85,107.62 L179.05,107.56 L179.25,107.50 L179.46,107.45 L179.66,107.40 L179.86,107.37 L180.07,107.34 L180.27,107.32 L180.48,107.30 L180.68,107.29 L180.88,107.28 L181.09,107.27 L181.29,107.26 L181.49,107.25 L181.70,107.24 L181.90,107.23 L182.11,107.22 L182.31,107.21 L182.51,107.20 L182.72,107.19 L182.92,107.18 L183.13,107.17 L183.33,107.16 L183.53,107.16 L183.74,107.15 L183.94,107.14 L184.14,107.13 L184.35,107.13 L184.55,107.12 L184.76,107.11 L184.96,107.11 L185.16,107.10 L185.37,107.10 L185.57,107.09 L185.77,107.09 L185.98,107.08 L186.18,107.08 L186.39,107.07 L186.59,107.07 L186.79,107.07 L187.00,107.06 L187.20,107.06 L187.41,107.06 L187.61,107.05 L187.81,107.05 L188.02,107.05 L188.22,107.05 L188.42,107.05 L188.63,107.05 L188.83,107.05 L189.04,107.05 L189.24,107.05 L189.44,107.06 L189.65,107.08 L189.85,107.09 L190.05,107.11 L190.26,107.14 L190.46,107.16 L190.67,107.19 L190.87,107.23 L191.07,107.26 L191.28,107.30 L191.48,107.35 L191.69,107.39 L191.89,107.44 L192.09,107.49 L192.30,107.54 L192.50,107.59 L192.70,107.65 L192.91,107.70 L193.11,107.76 L193.32,107.82 L193.52,107.88 L193.72,107.95 L193.93,108.01 L194.13,108.07 L194.33,108.14 L194.54,108.21 L194.74,108.27 L194.95,108.34 L195.15,108.41 L195.35,108.48 L195.56,108.54 L195.76,108.61 L195.97,108.68 L196.17,108.74 L196.37,108.81 L196.58,108.88 L196.78,108.94 L196.98,109.00 L197.19,109.07 L197.39,109.13 L197.60,109.19 L197.80,109.25 L198.00,109.32 L198.21,109.39 L198.41,109.46 L198.61,109.53 L198.82,109.60 L199.02,109.68 L199.23,109.75 L199.43,109.83 L199.63,109.91 L199.84,109.99 L200.04,110.07 L200.25,110.15 L200.45,110.23 L200.65,110.31 L200.86,110.40 L201.06,110.48 L201.26,110.57 L201.47,110.65 L201.67,110.74 L201.88,110.82 L202.08,110.91 L202.28,110.99 L202.49,111.08 L202.69,111.16 L202.89,111.24 L203.10,111.33 L203.30,111.41 L203.51,111.49 L203.71,111.58 L203.91,111.66 L204.12,111.74 L204.32,111.82 L204.53,111.89 L204.73,111.97 L204.93,112.05 L205.14,112.12 L205.34,112.19 L205.54,112.26 L205.75,112.33 L205.95,112.40 L206.16,112.47 L206.36,112.53 L206.56,112.60 L206.77,112.66 L206.97,112.72 L207.17,112.78 L207.38,112.85 L207.58,112.91 L207.79,112.97 L207.99,113.03 L208.19,113.09 L208.40,113.14 L208.60,113.20 L208.81,113.26 L209.01,113.32 L209.21,113.38 L209.42,113.43 L209.62,113.49 L209.82,113.54 L210.03,113.60 L210.23,113.66 L210.44,113.71 L210.64,113.77 L210.84,113.83 L211.05,113.88 L211.25,113.94 L211.45,113.99 L211.66,114.05 L211.86,114.11 L212.07,114.17 L212.27,114.22 L212.47,114.28 L212.68,114.34 L212.88,114.40 L213.09,114.46 L213.29,114.52 L213.49,114.58 L213.70,114.64 L213.90,114.70 L214.10,114.76 L214.31,114.83 L214.51,114.89 L214.72,114.95 L214.92,115.02 L215.12,115.08 L215.33,115.15 L215.53,115.21 L215.73,115.28 L215.94,115.34 L216.14,115.41 L216.35,115.48 L216.55,115.54 L216.75,115.61 L216.96,115.68 L217.16,115.75 L217.37,115.81 L217.57,115.88 L217.77,115.95 L217.98,116.02 L218.18,116.09 L218.38,116.16 L218.59,116.22 L218.79,116.29 L219.00,116.36 L219.20,116.43 L219.40,116.50 L219.61,116.57 L219.81,116.64 L220.01,116.71 L220.22,116.78 L220.42,116.85 L220.63,116.92 L220.83,116.99 L221.03,117.07 L221.24,117.14 L221.44,117.21 L221.65,117.28 L221.85,117.35 L222.05,117.42 L222.26,117.49 L222.46,117.56 L222.66,117.64 L222.87,117.71 L223.07,117.78 L223.28,117.85 L223.48,117.92 L223.68,117.99 L223.89,118.06 L224.09,118.13 L224.29,118.21 L224.50,118.28 L224.70,118.35 L224.91,118.42 L225.11,118.49 L225.31,118.56 L225.52,118.63 L225.72,118.70 L225.93,118.77 L226.13,118.85 L226.33,118.92 L226.54,118.99 L226.74,119.06 L226.94,119.13 L227.15,119.21 L227.35,119.28 L227.56,119.35 L227.76,119.43 L227.96,119.50 L228.17,119.58 L228.37,119.65 L228.57,119.73 L228.78,119.81 L228.98,119.88 L229.19,119.96 L229.39,120.04 L229.59,120.12 L229.80,120.20 L230.00,120.28 L230.21,120.36 L230.41,120.44 L230.61,120.52 L230.82,120.61 L231.02,120.69 L231.22,120.78 L231.43,120.86 L231.63,120.95 L231.84,121.04 L232.04,121.13 L232.24,121.22 L232.45,121.32 L232.65,121.41 L232.85,121.51 L233.06,121.61 L233.26,121.71 L233.47,121.81 L233.67,121.91 L233.87,122.01 L234.08,122.11 L234.28,122.22 L234.48,122.32 L234.69,122.42 L234.89,122.53 L235.10,122.64 L235.30,122.74 L235.50,122.85 L235.71,122.95 L235.91,123.06 L236.12,123.16 L236.32,123.27 L236.52,123.38 L236.73,123.48 L236.93,123.59 L237.13,123.69 L237.34,123.79 L237.54,123.90 L237.75,124.00 L237.95,124.10 L238.15,124.20 L238.36,124.30 L238.56,124.40 L238.76,124.50 L238.97,124.59 L239.17,124.69 L239.38,124.78 L239.58,124.87 L239.78,124.96 L239.99,125.05 L240.19,125.14 L240.40,125.22 L240.60,125.31 L240.80,125.39 L241.01,125.48 L241.21,125.56 L241.41,125.64 L241.62,125.72 L241.82,125.80 L242.03,125.88 L242.23,125.96 L242.43,126.04 L242.64,126.11 L242.84,126.19 L243.04,126.27 L243.25,126.34 L243.45,126.42 L243.66,126.50 L243.86,126.57 L244.06,126.65 L244.27,126.73 L244.47,126.80 L244.68,126.88 L244.88,126.96 L245.08,127.03 L245.29,127.11 L245.49,127.19 L245.69,127.27 L245.90,127.35 L246.10,127.43 L246.31,127.51 L246.51,127.59 L246.71,127.67 L246.92,127.76 L247.12,127.84 L247.32,127.93 L247.53,128.01 L247.73,128.10 L247.94,128.19 L248.14,128.28 L248.34,128.37 L248.55,128.47 L248.75,128.56 L248.96,128.65 L249.16,128.75 L249.36,128.84 L249.57,128.94 L249.77,129.04 L249.97,129.14 L250.18,129.23 L250.38,129.33 L250.59,129.43 L250.79,129.53 L250.99,129.64 L251.20,129.74 L251.40,129.84 L251.60,129.94 L251.81,130.05 L252.01,130.15 L252.22,130.26 L252.42,130.36 L252.62,130.47 L252.83,130.58 L253.03,130.69 L253.24,130.79 L253.44,130.90 L253.64,131.01 L253.85,131.12 L254.05,131.23 L254.25,131.35 L254.46,131.46 L254.66,131.57 L254.87,131.68 L255.07,131.80 L255.27,131.91 L255.48,132.03 L255.68,132.14 L255.88,132.26 L256.09,132.38 L256.29,132.49 L256.50,132.61 L256.70,132.73" fill="none" stroke="#2f7a4c" stroke-width="1.2"/>
<rect x="161.78" y="155.80" width="3.40" height="3.40" fill="none" stroke="#2f7a4c" stroke-width="1"/>
<rect x="170.25" y="111.70" width="3.40" height="3.40" fill="none" stroke="#2f7a4c" stroke-width="1"/>
<rect x="178.73" y="105.61" width="3.40" height="3.40" fill="none" stroke="#2f7a4c" stroke-width="1"/>
<rect x="187.20" y="105.35" width="3.40" height="3.40" fill="none" stroke="#2f7a4c" stroke-width="1"/>
<rect x="195.68" y="107.42" width="3.40" height="3.40" fill="none" stroke="#2f7a4c" stroke-width="1"/>
<rect x="204.15" y="110.67" width="3.40" height="3.40" fill="none" stroke="#2f7a4c" stroke-width="1"/>
<rect x="212.62" y="113.13" width="3.40" height="3.40" fill="none" stroke="#2f7a4c" stroke-width="1"/>
<rect x="221.10" y="115.98" width="3.40" height="3.40" fill="none" stroke="#2f7a4c" stroke-width="1"/>
<rect x="229.57" y="119.10" width="3.40" height="3.40" fill="none" stroke="#2f7a4c" stroke-width="1"/>
<rect x="238.05" y="123.25" width="3.40" height="3.40" fill="none" stroke="#2f7a4c" stroke-width="1"/>
<rect x="246.53" y="126.62" width="3.40" height="3.40" fill="none" stroke="#2f7a4c" stroke-width="1"/>
<rect x="255.00" y="131.03" width="3.40" height="3.40" fill="none" stroke="#2f7a4c" stroke-width="1"/>
<path d="M155.00,748.95 L155.20,733.90 L155.41,719.14 L155.61,704.75 L155.82,690.79 L156.02,677.35 L156.22,664.50 L156.43,652.32 L156.63,640.86 L156.83,630.16 L157.04,620.03 L157.24,610.38 L157.45,601.15 L157.65,592.27 L157.85,583.68 L158.06,575.31 L158.26,567.09 L158.46,558.96 L158.67,550.84 L158.87,542.67 L159.08,534.39 L159.28,525.92 L159.48,517.20 L159.69,508.17 L159.89,498.86 L160.10,489.32 L160.30,479.59 L160.50,469.74 L160.71,459.80 L160.91,449.84 L161.11,439.90 L161.32,430.02 L161.52,420.28 L161.73,410.70 L161.93,401.35 L162.13,392.27 L162.34,383.52 L162.54,375.14 L162.74,367.19 L162.95,359.72 L163.15,352.77 L163.36,346.41 L163.56,340.61 L163.76,334.98 L163.97,329.41 L164.17,323.91 L164.38,318.47 L164.58,313.09 L164.78,307.79 L164.99,302.56 L165.19,297.40 L165.39,292.32 L165.60,287.31 L165.80,282.38 L166.01,277.54 L166.21,272.78 L166.41,268.10 L166.62,263.51 L166.82,259.01 L167.02,254.60 L167.23,250.28 L167.43,246.06 L167.64,241.93 L167.84,237.91 L168.04,233.98 L168.25,230.16 L168.45,226.44 L168.66,222.83 L168.86,219.32 L169.06,215.93 L169.27,212.65 L169.47,209.48 L169.67,206.43 L169.88,203.50 L170.08,200.69 L170.29,198.00 L170.49,195.43 L170.69,192.99 L170.90,190.68 L171.10,188.50 L171.30,186.45 L171.51,184.53 L171.71,182.75 L171.92,181.11 L172.12,179.57 L172.32,178.06 L172.53,176.58 L172.73,175.13 L172.94,173.70 L173.14,172.31 L173.34,170.94 L173.55,169.61 L173.75,168.30 L173.95,167.02 L174.16,165.77 L174.36,164.55 L174.57,163.36 L174.77,162.19 L174.97,161.06 L175.18,159.95 L175.38,158.86 L175.58,157.81 L175.79,156.78 L175.99,155.79 L176.20,154.81 L176.40,153.87 L176.60,152.95 L176.81,152.06 L177.01,151.20 L177.22,150.36 L177.42,149.55 L177.62,148.77 L177.83,148.01 L178.03,147.28 L178.23,146.58 L178.44,145.90 L178.64,145.25 L178.85,144.62 L179.05,144.02 L179.25,143.45 L179.46,142.90 L179.66,142.38 L179.86,141.88 L180.07,141.41 L180.27,140.96 L180.48,140.54 L180.68,140.12 L180.88,139.72 L181.09,139.31 L181.29,138.92 L181.49,138.52 L181.70,138.14 L181.90,137.75 L182.11,137.38 L182.31,137.01 L182.51,136.65 L182.72,136.29 L182.92,135.94 L183.13,135.60 L183.33,135.26 L183.53,134.93 L183.74,134.61 L183.94,134.30 L184.14,133.99 L184.35,133.70 L184.55,133.41 L184.76,133.13 L184.96,132.86 L185.16,132.59 L185.37,132.34 L185.57,132.10 L185.77,131.86 L185.98,131.64 L186.18,131.42 L186.39,131.22 L186.59,131.03 L186.79,130.84 L187.00,130.67 L187.20,130.51 L187.41,130.36 L187.61,130.22 L187.81,130.09 L188.02,129.98 L188.22,129.87 L188.42,129.78 L188.63,129.70 L188.83,129.64 L189.04,129.58 L189.24,129.52 L189.44,129.47 L189.65,129.42 L189.85,129.37 L190.05,129.31 L190.26,129.26 L190.46,129.22 L190.67,129.17 L190.87,129.12 L191.07,129.08 L191.28,129.03 L191.48,128.99 L191.69,128.94 L191.89,128.90 L192.09,128.86 L192.30,128.82 L192.50,128.79 L192.70,128.75 L192.91,128.72 L193.11,128.68 L193.32,128.65 L193.52,128.62 L193.72,128.59 L193.93,128.56 L194.13,128.53 L194.33,128.51 L194.54,128.49 L194.74,128.46 L194.95,128.44 L195.15,128.42 L195.35,128.41 L195.56,128.39 L195.76,128.37 L195.97,128.36 L196.17,128.35 L196.37,128.34 L196.58,128.33 L196.78,128.33 L196.98,128.32 L197.19,128.32 L197.39,128.32 L197.60,128.32 L197.80,128.32 L198.00,128.33 L198.21,128.33 L198.41,128.33 L198.61,128.34 L198.82,128.35 L199.02,128.36 L199.23,128.37 L199.43,128.38 L199.63,128.39 L199.84,128.40 L200.04,128.41 L200.25,128.43 L200.45,128.44 L200.65,128.46 L200.86,128.47 L201.06,128.49 L201.26,128.51 L201.47,128.52 L201.67,128.54 L201.88,128.56 L202.08,128.58 L202.28,128.60 L202.49,128.62 L202.69,128.64 L202.89,128.66 L203.10,128.68 L203.30,128.70 L203.51,128.72 L203.71,128.74 L203.91,128.76 L204.12,128.79 L204.32,128.81 L204.53,128.83 L204.73,128.85 L204.93,128.87 L205.14,128.89 L205.34,128.92 L205.54,128.94 L205.75,128.96 L205.95,128.98 L206.16,129.00 L206.36,129.03 L206.56,129.06 L206.77,129.08 L206.97,129.12 L207.17,129.15 L207.38,129.18 L207.58,129.22 L207.79,129.26 L207.99,129.30 L208.19,129.34 L208.40,129.38 L208.60,129.42 L208.81,129.46 L209.01,129.50 L209.21,129.54 L209.42,129.59 L209.62,129.63 L209.82,129.67 L210.03,129.71 L210.23,129.75 L210.44,129.79 L210.64,129.83 L210.84,129.87 L211.05,129.91 L211.25,129.95 L211.45,129.99 L211.66,130.02 L211.86,130.05 L212.07,130.08 L212.27,130.11 L212.47,130.14 L212.68,130.16 L212.88,130.19 L213.09,130.21 L213.29,130.22 L213.49,130.24 L213.70,130.25 L213.90,130.26 L214.10,130.26 L214.31,130.26 L214.51,130.26 L214.72,130.26 L214.92,130.26 L215.12,130.25 L215.33,130.24 L215.53,130.23 L215.73,130.22 L215.94,130.20 L216.14,130.19 L216.35,130.17 L216.55,130.15 L216.75,130.14 L216.96,130.12 L217.16,130.10 L217.37,130.07 L217.57,130.05 L217.77,130.03 L217.98,130.01 L218.18,129.98 L218.38,129.96 L218.59,129.94 L218.79,129.91 L219.00,129.89 L219.20,129.87 L219.40,129.85 L219.61,129.82 L219.81,129.80 L220.01,129.78 L220.22,129.76 L220.42,129.74 L220.63,129.72 L220.83,129.71 L221.03,129.69 L221.24,129.67 L221.44,129.66 L221.65,129.65 L221.85,129.64 L222.05,129.63 L222.26,129.62 L222.46,129.62 L222.66,129.62 L222.87,129.62 L223.07,129.62 L223.28,129.63 L223.48,129.64 L223.68,129.66 L223.89,129.69 L224.09,129.72 L224.29,129.75 L224.50,129.78 L224.70,129.83 L224.91,129.87 L225.11,129.92 L225.31,129.97 L225.52,130.02 L225.72,130.08 L225.93,130.14 L226.13,130.20 L226.33,130.27 L226.54,130.34 L226.74,130.41 L226.94,130.48 L227.15,130.55 L227.35,130.63 L227.56,130.71 L227.76,130.79 L227.96,130.87 L228.17,130.95 L228.37,131.03 L228.57,131.12 L228.78,131.20 L228.98,131.28 L229.19,131.37 L229.39,131.45 L229.59,131.54 L229.80,131.62 L230.00,131.71 L230.21,131.79 L230.41,131.87 L230.61,131.95 L230.82,132.03 L231.02,132.11 L231.22,132.19 L231.43,132.27 L231.63,132.35 L231.84,132.43 L232.04,132.52 L232.24,132.61 L232.45,132.71 L232.65,132.80 L232.85,132.90 L233.06,133.00 L233.26,133.10 L233.47,133.20 L233.67,133.31 L233.87,133.42 L234.08,133.53 L234.28,133.64 L234.48,133.75 L234.69,133.86 L234.89,133.97 L235.10,134.08 L235.30,134.19 L235.50,134.31 L235.71,134.42 L235.91,134.53 L236.12,134.64 L236.32,134.75 L236.52,134.86 L236.73,134.97 L236.93,135.08 L237.13,135.19 L237.34,135.29 L237.54,135.40 L237.75,135.50 L237.95,135.60 L238.15,135.70 L238.36,135.79 L238.56,135.88 L238.76,135.97 L238.97,136.06 L239.17,136.14 L239.38,136.22 L239.58,136.30 L239.78,136.37 L239.99,136.44 L240.19,136.51 L240.40,136.58 L240.60,136.64 L240.80,136.71 L241.01,136.77 L241.21,136.83 L241.41,136.88 L241.62,136.94 L241.82,137.00 L242.03,137.05 L242.23,137.10 L242.43,137.15 L242.64,137.21 L242.84,137.26 L243.04,137.31 L243.25,137.36 L243.45,137.40 L243.66,137.45 L243.86,137.50 L244.06,137.55 L244.27,137.60 L244.47,137.65 L244.68,137.70 L244.88,137.75 L245.08,137.80 L245.29,137.85 L245.49,137.90 L245.69,137.95 L245.90,138.00 L246.10,138.05 L246.31,138.11 L246.51,138.16 L246.71,138.22 L246.92,138.28 L247.12,138.34 L247.32,138.40 L247.53,138.47 L247.73,138.53 L247.94,138.60 L248.14,138.67 L248.34,138.74 L248.55,138.81 L248.75,138.88 L248.96,138.96 L249.16,139.04 L249.36,139.12 L249.57,139.19 L249.77,139.28 L249.97,139.36 L250.18,139.44 L250.38,139.53 L250.59,139.61 L250.79,139.70 L250.99,139.79 L251.20,139.88 L251.40,139.97 L251.60,140.06 L251.81,140.16 L252.01,140.25 L252.22,140.35 L252.42,140.45 L252.62,140.55 L252.83,140.64 L253.03,140.75 L253.24,140.85 L253.44,140.95 L253.64,141.05 L253.85,141.16 L254.05,141.26 L254.25,141.37 L254.46,141.48 L254.66,141.59 L254.87,141.70 L255.07,141.81 L255.27,141.92 L255.48,142.03 L255.68,142.14 L255.88,142.25 L256.09,142.37 L256.29,142.48 L256.50,142.60 L256.70,142.72" fill="none" stroke="#b3c42c" stroke-width="1.2"/>
<circle cx="180.43" cy="140.64" r="1.70" fill="none" stroke="#b3c42c" stroke-width="1"/>
<circle cx="188.90" cy="129.62" r="1.70" fill="none" stroke="#b3c42c" stroke-width="1"/>
<circle cx="197.38" cy="128.32" r="1.70" fill="none" stroke="#b3c42c" stroke-width="1"/>
<circle cx="205.85" cy="128.97" r="1.70" fill="none" stroke="#b3c42c" stroke-width="1"/>
<circle cx="214.32" cy="130.26" r="1.70" fill="none" stroke="#b3c42c" stroke-width="1"/>
<circle cx="222.80" cy="129.62" r="1.70" fill="none" stroke="#b3c42c" stroke-width="1"/>
<circle cx="231.27" cy="132.21" r="1.70" fill="none" stroke="#b3c42c" stroke-width="1"/>
<circle cx="239.75" cy="136.36" r="1.70" fill="none" stroke="#b3c42c" stroke-width="1"/>
<circle cx="248.22" cy="138.70" r="1.70" fill="none" stroke="#b3c42c" stroke-width="1"/>
<circle cx="256.70" cy="142.72" r="1.70" fill="none" stroke="#b3c42c" stroke-width="1"/>
<path d="M155.00,748.95 L155.20,740.25 L155.41,731.63 L155.61,723.09 L155.82,714.65 L156.02,706.30 L156.22,698.05 L156.43,689.92 L156.63,681.89 L156.83,673.99 L157.04,666.20 L157.24,658.55 L157.45,651.03 L157.65,643.64 L157.85,636.41 L158.06,629.38 L158.26,622.56 L158.46,615.93 L158.67,609.46 L158.87,603.13 L159.08,596.91 L159.28,590.78 L159.48,584.70 L159.69,578.64 L159.89,572.60 L160.10,566.53 L160.30,560.41 L160.50,554.22 L160.71,547.92 L160.91,541.49 L161.11,534.91 L161.32,528.15 L161.52,521.18 L161.73,513.90 L161.93,506.02 L162.13,497.67 L162.34,489.07 L162.54,480.41 L162.74,471.88 L162.95,463.68 L163.15,456.02 L163.36,449.08 L163.56,442.98 L163.76,437.11 L163.97,431.31 L164.17,425.60 L164.38,419.95 L164.58,414.38 L164.78,408.89 L164.99,403.48 L165.19,398.14 L165.39,392.88 L165.60,387.69 L165.80,382.59 L166.01,377.56 L166.21,372.62 L166.41,367.75 L166.62,362.97 L166.82,358.26 L167.02,353.64 L167.23,349.09 L167.43,344.63 L167.64,340.25 L167.84,335.96 L168.04,331.75 L168.25,327.62 L168.45,323.57 L168.66,319.61 L168.86,315.74 L169.06,311.95 L169.27,308.25 L169.47,304.63 L169.67,301.11 L169.88,297.66 L170.08,294.31 L170.29,291.05 L170.49,287.87 L170.69,284.78 L170.90,281.79 L171.10,278.88 L171.30,276.06 L171.51,273.34 L171.71,270.71 L171.92,268.16 L172.12,265.70 L172.32,263.27 L172.53,260.88 L172.73,258.53 L172.94,256.22 L173.14,253.95 L173.34,251.72 L173.55,249.52 L173.75,247.36 L173.95,245.24 L174.16,243.15 L174.36,241.10 L174.57,239.09 L174.77,237.11 L174.97,235.17 L175.18,233.26 L175.38,231.38 L175.58,229.54 L175.79,227.74 L175.99,225.97 L176.20,224.23 L176.40,222.52 L176.60,220.85 L176.81,219.21 L177.01,217.60 L177.22,216.03 L177.42,214.48 L177.62,212.97 L177.83,211.48 L178.03,210.03 L178.23,208.61 L178.44,207.21 L178.64,205.85 L178.85,204.51 L179.05,203.21 L179.25,201.93 L179.46,200.68 L179.66,199.46 L179.86,198.26 L180.07,197.10 L180.27,195.95 L180.48,194.84 L180.68,193.74 L180.88,192.65 L181.09,191.56 L181.29,190.49 L181.49,189.42 L181.70,188.37 L181.90,187.32 L182.11,186.29 L182.31,185.27 L182.51,184.26 L182.72,183.26 L182.92,182.28 L183.13,181.31 L183.33,180.36 L183.53,179.41 L183.74,178.49 L183.94,177.58 L184.14,176.68 L184.35,175.80 L184.55,174.94 L184.76,174.10 L184.96,173.27 L185.16,172.46 L185.37,171.67 L185.57,170.90 L185.77,170.15 L185.98,169.41 L186.18,168.70 L186.39,168.01 L186.59,167.34 L186.79,166.70 L187.00,166.07 L187.20,165.47 L187.41,164.89 L187.61,164.33 L187.81,163.80 L188.02,163.30 L188.22,162.81 L188.42,162.36 L188.63,161.93 L188.83,161.52 L189.04,161.14 L189.24,160.77 L189.44,160.40 L189.65,160.05 L189.85,159.70 L190.05,159.36 L190.26,159.02 L190.46,158.69 L190.67,158.37 L190.87,158.06 L191.07,157.75 L191.28,157.45 L191.48,157.16 L191.69,156.88 L191.89,156.60 L192.09,156.32 L192.30,156.05 L192.50,155.79 L192.70,155.54 L192.91,155.29 L193.11,155.04 L193.32,154.80 L193.52,154.57 L193.72,154.34 L193.93,154.12 L194.13,153.90 L194.33,153.69 L194.54,153.48 L194.74,153.28 L194.95,153.08 L195.15,152.88 L195.35,152.69 L195.56,152.51 L195.76,152.33 L195.97,152.15 L196.17,151.97 L196.37,151.80 L196.58,151.64 L196.78,151.47 L196.98,151.31 L197.19,151.16 L197.39,151.00 L197.60,150.85 L197.80,150.70 L198.00,150.55 L198.21,150.41 L198.41,150.26 L198.61,150.11 L198.82,149.97 L199.02,149.82 L199.23,149.68 L199.43,149.54 L199.63,149.40 L199.84,149.27 L200.04,149.13 L200.25,149.00 L200.45,148.87 L200.65,148.74 L200.86,148.62 L201.06,148.49 L201.26,148.37 L201.47,148.25 L201.67,148.14 L201.88,148.02 L202.08,147.91 L202.28,147.80 L202.49,147.70 L202.69,147.60 L202.89,147.50 L203.10,147.40 L203.30,147.31 L203.51,147.22 L203.71,147.14 L203.91,147.06 L204.12,146.98 L204.32,146.90 L204.53,146.83 L204.73,146.77 L204.93,146.71 L205.14,146.65 L205.34,146.59 L205.54,146.54 L205.75,146.50 L205.95,146.46 L206.16,146.42 L206.36,146.38 L206.56,146.34 L206.77,146.30 L206.97,146.26 L207.17,146.22 L207.38,146.18 L207.58,146.15 L207.79,146.11 L207.99,146.07 L208.19,146.04 L208.40,146.00 L208.60,145.97 L208.81,145.94 L209.01,145.91 L209.21,145.87 L209.42,145.84 L209.62,145.81 L209.82,145.78 L210.03,145.76 L210.23,145.73 L210.44,145.70 L210.64,145.68 L210.84,145.65 L211.05,145.63 L211.25,145.61 L211.45,145.59 L211.66,145.57 L211.86,145.55 L212.07,145.53 L212.27,145.52 L212.47,145.50 L212.68,145.49 L212.88,145.48 L213.09,145.47 L213.29,145.46 L213.49,145.45 L213.70,145.45 L213.90,145.44 L214.10,145.44 L214.31,145.44 L214.51,145.44 L214.72,145.45 L214.92,145.46 L215.12,145.47 L215.33,145.48 L215.53,145.50 L215.73,145.52 L215.94,145.55 L216.14,145.57 L216.35,145.60 L216.55,145.64 L216.75,145.67 L216.96,145.71 L217.16,145.75 L217.37,145.79 L217.57,145.83 L217.77,145.87 L217.98,145.92 L218.18,145.97 L218.38,146.01 L218.59,146.06 L218.79,146.11 L219.00,146.17 L219.20,146.22 L219.40,146.27 L219.61,146.32 L219.81,146.38 L220.01,146.43 L220.22,146.49 L220.42,146.54 L220.63,146.59 L220.83,146.65 L221.03,146.70 L221.24,146.75 L221.44,146.81 L221.65,146.86 L221.85,146.91 L222.05,146.96 L222.26,147.01 L222.46,147.05 L222.66,147.10 L222.87,147.14 L223.07,147.18 L223.28,147.23 L223.48,147.27 L223.68,147.32 L223.89,147.36 L224.09,147.40 L224.29,147.45 L224.50,147.49 L224.70,147.54 L224.91,147.58 L225.11,147.62 L225.31,147.67 L225.52,147.71 L225.72,147.76 L225.93,147.80 L226.13,147.85 L226.33,147.89 L226.54,147.94 L226.74,147.99 L226.94,148.03 L227.15,148.08 L227.35,148.12 L227.56,148.17 L227.76,148.22 L227.96,148.27 L228.17,148.31 L228.37,148.36 L228.57,148.41 L228.78,148.46 L228.98,148.51 L229.19,148.55 L229.39,148.60 L229.59,148.65 L229.80,148.70 L230.00,148.75 L230.21,148.80 L230.41,148.85 L230.61,148.90 L230.82,148.96 L231.02,149.01 L231.22,149.06 L231.43,149.11 L231.63,149.16 L231.84,149.22 L232.04,149.27 L232.24,149.32 L232.45,149.38 L232.65,149.43 L232.85,149.48 L233.06,149.54 L233.26,149.59 L233.47,149.65 L233.67,149.70 L233.87,149.76 L234.08,149.82 L234.28,149.87 L234.48,149.93 L234.69,149.99 L234.89,150.04 L235.10,150.10 L235.30,150.16 L235.50,150.22 L235.71,150.28 L235.91,150.34 L236.12,150.40 L236.32,150.46 L236.52,150.52 L236.73,150.58 L236.93,150.64 L237.13,150.70 L237.34,150.76 L237.54,150.83 L237.75,150.89 L237.95,150.95 L238.15,151.02 L238.36,151.08 L238.56,151.15 L238.76,151.21 L238.97,151.28 L239.17,151.34 L239.38,151.41 L239.58,151.48 L239.78,151.55 L239.99,151.62 L240.19,151.69 L240.40,151.76 L240.60,151.83 L240.80,151.91 L241.01,151.98 L241.21,152.06 L241.41,152.14 L241.62,152.22 L241.82,152.30 L242.03,152.38 L242.23,152.46 L242.43,152.54 L242.64,152.62 L242.84,152.71 L243.04,152.79 L243.25,152.87 L243.45,152.96 L243.66,153.04 L243.86,153.13 L244.06,153.21 L244.27,153.30 L244.47,153.39 L244.68,153.47 L244.88,153.56 L245.08,153.64 L245.29,153.73 L245.49,153.81 L245.69,153.90 L245.90,153.98 L246.10,154.07 L246.31,154.15 L246.51,154.24 L246.71,154.32 L246.92,154.40 L247.12,154.48 L247.32,154.56 L247.53,154.64 L247.73,154.72 L247.94,154.80 L248.14,154.88 L248.34,154.95 L248.55,155.03 L248.75,155.10 L248.96,155.18 L249.16,155.26 L249.36,155.33 L249.57,155.41 L249.77,155.48 L249.97,155.55 L250.18,155.63 L250.38,155.70 L250.59,155.78 L250.79,155.85 L250.99,155.92 L251.20,156.00 L251.40,156.07 L251.60,156.14 L251.81,156.22 L252.01,156.29 L252.22,156.36 L252.42,156.43 L252.62,156.50 L252.83,156.58 L253.03,156.65 L253.24,156.72 L253.44,156.79 L253.64,156.86 L253.85,156.93 L254.05,157.00 L254.25,157.07 L254.46,157.14 L254.66,157.21 L254.87,157.28 L255.07,157.35 L255.27,157.42 L255.48,157.49 L255.68,157.55 L255.88,157.62 L256.09,157.69 L256.29,157.76 L256.50,157.82 L256.70,157.89" fill="none" stroke="#f7953d" stroke-width="1.2"/>
<path d="M188.90,159.44 L190.77,162.86 L187.03,162.86 Z" fill="none" stroke="#f7953d" stroke-width="1"/>
<path d="M197.38,149.06 L199.25,152.48 L195.50,152.48 Z" fill="none" stroke="#f7953d" stroke-width="1"/>
<path d="M205.85,144.52 L207.72,147.94 L203.98,147.94 Z" fill="none" stroke="#f7953d" stroke-width="1"/>
<path d="M214.32,143.49 L216.19,146.91 L212.45,146.91 Z" fill="none" stroke="#f7953d" stroke-width="1"/>
<path d="M222.80,145.17 L224.67,148.59 L220.93,148.59 Z" fill="none" stroke="#f7953d" stroke-width="1"/>
<path d="M231.27,147.12 L233.14,150.54 L229.40,150.54 Z" fill="none" stroke="#f7953d" stroke-width="1"/>
<path d="M239.75,149.58 L241.62,153.00 L237.88,153.00 Z" fill="none" stroke="#f7953d" stroke-width="1"/>
<path d="M248.22,152.95 L250.09,156.37 L246.35,156.37 Z" fill="none" stroke="#f7953d" stroke-width="1"/>
<path d="M256.70,155.94 L258.57,159.36 L254.83,159.36 Z" fill="none" stroke="#f7953d" stroke-width="1"/>
<path d="M155.00,799.53 L155.20,792.41 L155.41,785.30 L155.61,778.20 L155.82,771.11 L156.02,764.03 L156.22,756.96 L156.43,749.91 L156.63,742.86 L156.83,735.83 L157.04,728.81 L157.24,721.80 L157.45,714.80 L157.65,707.81 L157.85,700.83 L158.06,693.87 L158.26,686.92 L158.46,679.98 L158.67,673.06 L158.87,666.14 L159.08,659.22 L159.28,652.21 L159.48,645.11 L159.69,637.94 L159.89,630.72 L160.10,623.46 L160.30,616.18 L160.50,608.90 L160.71,601.63 L160.91,594.40 L161.11,587.21 L161.32,580.08 L161.52,573.04 L161.73,566.09 L161.93,559.26 L162.13,552.56 L162.34,546.00 L162.54,539.61 L162.74,533.40 L162.95,527.39 L163.15,521.59 L163.36,516.02 L163.56,510.68 L163.76,505.43 L163.97,500.21 L164.17,495.05 L164.38,489.93 L164.58,484.85 L164.78,479.83 L164.99,474.85 L165.19,469.93 L165.39,465.05 L165.60,460.23 L165.80,455.46 L166.01,450.74 L166.21,446.07 L166.41,441.46 L166.62,436.90 L166.82,432.39 L167.02,427.94 L167.23,423.55 L167.43,419.21 L167.64,414.94 L167.84,410.72 L168.04,406.56 L168.25,402.45 L168.45,398.41 L168.66,394.43 L168.86,390.51 L169.06,386.66 L169.27,382.86 L169.47,379.13 L169.67,375.47 L169.88,371.87 L170.08,368.33 L170.29,364.86 L170.49,361.46 L170.69,358.12 L170.90,354.86 L171.10,351.66 L171.30,348.53 L171.51,345.47 L171.71,342.48 L171.92,339.57 L172.12,336.71 L172.32,333.88 L172.53,331.09 L172.73,328.34 L172.94,325.61 L173.14,322.92 L173.34,320.27 L173.55,317.64 L173.75,315.05 L173.95,312.49 L174.16,309.97 L174.36,307.48 L174.57,305.02 L174.77,302.60 L174.97,300.20 L175.18,297.84 L175.38,295.52 L175.58,293.22 L175.79,290.96 L175.99,288.73 L176.20,286.54 L176.40,284.38 L176.60,282.25 L176.81,280.15 L177.01,278.08 L177.22,276.05 L177.42,274.05 L177.62,272.08 L177.83,270.15 L178.03,268.25 L178.23,266.37 L178.44,264.54 L178.64,262.73 L178.85,260.96 L179.05,259.21 L179.25,257.50 L179.46,255.83 L179.66,254.18 L179.86,252.57 L180.07,250.99 L180.27,249.44 L180.48,247.92 L180.68,246.42 L180.88,244.93 L181.09,243.46 L181.29,242.01 L181.49,240.57 L181.70,239.14 L181.90,237.73 L182.11,236.34 L182.31,234.96 L182.51,233.60 L182.72,232.25 L182.92,230.92 L183.13,229.61 L183.33,228.31 L183.53,227.04 L183.74,225.77 L183.94,224.53 L184.14,223.31 L184.35,222.10 L184.55,220.91 L184.76,219.74 L184.96,218.59 L185.16,217.45 L185.37,216.34 L185.57,215.25 L185.77,214.17 L185.98,213.12 L186.18,212.08 L186.39,211.07 L186.59,210.07 L186.79,209.10 L187.00,208.15 L187.20,207.22 L187.41,206.31 L187.61,205.42 L187.81,204.55 L188.02,203.71 L188.22,202.88 L188.42,202.08 L188.63,201.31 L188.83,200.55 L189.04,199.82 L189.24,199.09 L189.44,198.37 L189.65,197.66 L189.85,196.96 L190.05,196.27 L190.26,195.58 L190.46,194.91 L190.67,194.24 L190.87,193.58 L191.07,192.93 L191.28,192.29 L191.48,191.66 L191.69,191.03 L191.89,190.42 L192.09,189.82 L192.30,189.22 L192.50,188.64 L192.70,188.07 L192.91,187.50 L193.11,186.95 L193.32,186.40 L193.52,185.87 L193.72,185.35 L193.93,184.83 L194.13,184.33 L194.33,183.84 L194.54,183.36 L194.74,182.89 L194.95,182.43 L195.15,181.98 L195.35,181.55 L195.56,181.12 L195.76,180.71 L195.97,180.31 L196.17,179.92 L196.37,179.54 L196.58,179.18 L196.78,178.83 L196.98,178.48 L197.19,178.16 L197.39,177.84 L197.60,177.53 L197.80,177.23 L198.00,176.94 L198.21,176.64 L198.41,176.36 L198.61,176.08 L198.82,175.81 L199.02,175.54 L199.23,175.27 L199.43,175.01 L199.63,174.76 L199.84,174.51 L200.04,174.27 L200.25,174.03 L200.45,173.79 L200.65,173.56 L200.86,173.33 L201.06,173.11 L201.26,172.89 L201.47,172.67 L201.67,172.46 L201.88,172.25 L202.08,172.05 L202.28,171.85 L202.49,171.65 L202.69,171.46 L202.89,171.27 L203.10,171.08 L203.30,170.89 L203.51,170.71 L203.71,170.53 L203.91,170.35 L204.12,170.18 L204.32,170.01 L204.53,169.84 L204.73,169.67 L204.93,169.51 L205.14,169.34 L205.34,169.18 L205.54,169.02 L205.75,168.87 L205.95,168.71 L206.16,168.55 L206.36,168.40 L206.56,168.24 L206.77,168.09 L206.97,167.93 L207.17,167.78 L207.38,167.62 L207.58,167.47 L207.79,167.32 L207.99,167.17 L208.19,167.02 L208.40,166.88 L208.60,166.73 L208.81,166.59 L209.01,166.44 L209.21,166.30 L209.42,166.16 L209.62,166.03 L209.82,165.89 L210.03,165.76 L210.23,165.63 L210.44,165.51 L210.64,165.38 L210.84,165.26 L211.05,165.14 L211.25,165.03 L211.45,164.91 L211.66,164.80 L211.86,164.70 L212.07,164.60 L212.27,164.50 L212.47,164.40 L212.68,164.31 L212.88,164.22 L213.09,164.14 L213.29,164.06 L213.49,163.99 L213.70,163.92 L213.90,163.85 L214.10,163.79 L214.31,163.73 L214.51,163.68 L214.72,163.63 L214.92,163.57 L215.12,163.52 L215.33,163.47 L215.53,163.42 L215.73,163.37 L215.94,163.32 L216.14,163.27 L216.35,163.22 L216.55,163.17 L216.75,163.12 L216.96,163.07 L217.16,163.03 L217.37,162.98 L217.57,162.94 L217.77,162.89 L217.98,162.85 L218.18,162.81 L218.38,162.77 L218.59,162.73 L218.79,162.69 L219.00,162.66 L219.20,162.62 L219.40,162.59 L219.61,162.56 L219.81,162.53 L220.01,162.50 L220.22,162.47 L220.42,162.45 L220.63,162.43 L220.83,162.40 L221.03,162.39 L221.24,162.37 L221.44,162.35 L221.65,162.34 L221.85,162.33 L222.05,162.32 L222.26,162.31 L222.46,162.30 L222.66,162.30 L222.87,162.30 L223.07,162.30 L223.28,162.30 L223.48,162.30 L223.68,162.30 L223.89,162.30 L224.09,162.30 L224.29,162.30 L224.50,162.30 L224.70,162.30 L224.91,162.30 L225.11,162.30 L225.31,162.30 L225.52,162.30 L225.72,162.30 L225.93,162.30 L226.13,162.30 L226.33,162.30 L226.54,162.30 L226.74,162.30 L226.94,162.30 L227.15,162.30 L227.35,162.30 L227.56,162.30 L227.76,162.30 L227.96,162.30 L228.17,162.30 L228.37,162.30 L228.57,162.30 L228.78,162.30 L228.98,162.30 L229.19,162.30 L229.39,162.30 L229.59,162.30 L229.80,162.30 L230.00,162.30 L230.21,162.30 L230.41,162.30 L230.61,162.30 L230.82,162.30 L231.02,162.30 L231.22,162.30 L231.43,162.30 L231.63,162.31 L231.84,162.31 L232.04,162.32 L232.24,162.33 L232.45,162.34 L232.65,162.36 L232.85,162.37 L233.06,162.39 L233.26,162.41 L233.47,162.43 L233.67,162.46 L233.87,162.48 L234.08,162.51 L234.28,162.54 L234.48,162.57 L234.69,162.61 L234.89,162.64 L235.10,162.68 L235.30,162.71 L235.50,162.75 L235.71,162.79 L235.91,162.83 L236.12,162.87 L236.32,162.91 L236.52,162.96 L236.73,163.00 L236.93,163.05 L237.13,163.09 L237.34,163.14 L237.54,163.19 L237.75,163.24 L237.95,163.29 L238.15,163.33 L238.36,163.38 L238.56,163.43 L238.76,163.48 L238.97,163.53 L239.17,163.58 L239.38,163.64 L239.58,163.69 L239.78,163.74 L239.99,163.79 L240.19,163.85 L240.40,163.91 L240.60,163.98 L240.80,164.05 L241.01,164.13 L241.21,164.21 L241.41,164.29 L241.62,164.38 L241.82,164.47 L242.03,164.56 L242.23,164.66 L242.43,164.76 L242.64,164.86 L242.84,164.96 L243.04,165.07 L243.25,165.18 L243.45,165.28 L243.66,165.39 L243.86,165.50 L244.06,165.62 L244.27,165.73 L244.47,165.84 L244.68,165.95 L244.88,166.07 L245.08,166.18 L245.29,166.29 L245.49,166.41 L245.69,166.52 L245.90,166.63 L246.10,166.74 L246.31,166.84 L246.51,166.95 L246.71,167.05 L246.92,167.16 L247.12,167.26 L247.32,167.35 L247.53,167.45 L247.73,167.54 L247.94,167.63 L248.14,167.71 L248.34,167.80 L248.55,167.88 L248.75,167.96 L248.96,168.04 L249.16,168.12 L249.36,168.20 L249.57,168.28 L249.77,168.36 L249.97,168.44 L250.18,168.52 L250.38,168.60 L250.59,168.67 L250.79,168.75 L250.99,168.83 L251.20,168.90 L251.40,168.98 L251.60,169.05 L251.81,169.13 L252.01,169.20 L252.22,169.27 L252.42,169.35 L252.62,169.42 L252.83,169.49 L253.03,169.56 L253.24,169.63 L253.44,169.70 L253.64,169.77 L253.85,169.84 L254.05,169.91 L254.25,169.97 L254.46,170.04 L254.66,170.11 L254.87,170.17 L255.07,170.24 L255.27,170.30 L255.48,170.36 L255.68,170.43 L255.88,170.49 L256.09,170.55 L256.29,170.61 L256.50,170.67 L256.70,170.73" fill="none" stroke="#f02a42" stroke-width="1.2"/>
<path d="M197.38,179.82 L199.25,176.40 L195.50,176.40 Z" fill="none" stroke="#f02a42" stroke-width="1"/>
<path d="M205.85,170.74 L207.72,167.32 L203.98,167.32 Z" fill="none" stroke="#f02a42" stroke-width="1"/>
<path d="M214.32,165.68 L216.19,162.26 L212.45,162.26 Z" fill="none" stroke="#f02a42" stroke-width="1"/>
<path d="M222.80,164.26 L224.67,160.84 L220.93,160.84 Z" fill="none" stroke="#f02a42" stroke-width="1"/>
<path d="M231.27,164.26 L233.14,160.84 L229.40,160.84 Z" fill="none" stroke="#f02a42" stroke-width="1"/>
<path d="M239.75,165.68 L241.62,162.26 L237.88,162.26 Z" fill="none" stroke="#f02a42" stroke-width="1"/>
<path d="M248.22,169.70 L250.09,166.28 L246.35,166.28 Z" fill="none" stroke="#f02a42" stroke-width="1"/>
<path d="M256.70,172.69 L258.57,169.27 L254.83,169.27 Z" fill="none" stroke="#f02a42" stroke-width="1"/>
</g>
<rect x="155" y="99" width="106.30" height="78.70" fill="none" stroke="#2b2b2b" stroke-width="1"/>
<path d="M155,171.05 h3.5 M155,164.52 h2 M155,158.00 h3.5 M155,151.47 h2 M155,144.95 h3.5 M155,138.43 h2 M155,131.90 h3.5 M155,125.38 h2 M155,118.85 h3.5 M155,112.33 h2 M155,105.80 h3.5 M155.00,177.7 v-3.5 M166.30,177.7 v-2 M177.60,177.7 v-3.5 M188.90,177.7 v-2 M200.20,177.7 v-3.5 M211.50,177.7 v-2 M222.80,177.7 v-3.5 M234.10,177.7 v-2 M245.40,177.7 v-3.5 M256.70,177.7 v-2" stroke="#2b2b2b" stroke-width="1" fill="none"/>
<text x="151.3" y="174.65" font-size="10.4" text-anchor="end" fill="#111">530</text>
<text x="151.3" y="161.60" font-size="10.4" text-anchor="end" fill="#111">540</text>
<text x="151.3" y="148.55" font-size="10.4" text-anchor="end" fill="#111">550</text>
<text x="151.3" y="135.50" font-size="10.4" text-anchor="end" fill="#111">560</text>
<text x="151.3" y="122.45" font-size="10.4" text-anchor="end" fill="#111">570</text>
<text x="151.3" y="109.40" font-size="10.4" text-anchor="end" fill="#111">580</text>
<text x="155.00" y="190.2" font-size="10.6" text-anchor="middle" fill="#111">0</text>
<text x="177.60" y="190.2" font-size="10.6" text-anchor="middle" fill="#111">40</text>
<text x="200.20" y="190.2" font-size="10.6" text-anchor="middle" fill="#111">80</text>
<text x="222.80" y="190.2" font-size="10.6" text-anchor="middle" fill="#111">120</text>
<text x="245.40" y="190.2" font-size="10.6" text-anchor="middle" fill="#111">160</text>
<text transform="translate(128.3,137.5) rotate(-90)" font-size="11.5" text-anchor="middle" fill="#111">Temperature (°C)</text>
<text x="208" y="203.8" font-size="11" text-anchor="middle" fill="#111">Time (s)</text>
<text transform="translate(144.6,206.8) scale(0.98,1.1)" font-size="15.5" fill="#111">(a)</text>
<text x="46.4" y="11.3" font-size="11.6" fill="#111">Coating Thickness</text>
<line x1="46" y1="21.6" x2="72.8" y2="21.6" stroke="#2f7a4c" stroke-width="1.15"/>
<rect x="57.55" y="19.75" width="3.70" height="3.70" fill="none" stroke="#2f7a4c" stroke-width="1"/>
<text x="75.5" y="25.50" font-size="11.6" fill="#111">0.0 mm</text>
<line x1="113.1" y1="21.6" x2="140.1" y2="21.6" stroke="#b3c42c" stroke-width="1.15"/>
<circle cx="126.50" cy="21.60" r="1.85" fill="none" stroke="#b3c42c" stroke-width="1"/>
<text x="143" y="25.50" font-size="11.6" fill="#111">0.1 mm</text>
<line x1="46" y1="36" x2="72.8" y2="36" stroke="#f7953d" stroke-width="1.15"/>
<path d="M59.40,33.87 L61.44,37.60 L57.36,37.60 Z" fill="none" stroke="#f7953d" stroke-width="1"/>
<text x="75.5" y="39.90" font-size="11.6" fill="#111">0.5 mm</text>
<line x1="113.1" y1="36" x2="140.1" y2="36" stroke="#f02a42" stroke-width="1.15"/>
<path d="M126.50,38.13 L128.53,34.40 L124.47,34.40 Z" fill="none" stroke="#f02a42" stroke-width="1"/>
<text x="143" y="39.90" font-size="11.6" fill="#111">1.0 mm</text>
<g clip-path="url(#cr)">
<path d="M324.00,208.10 L324.53,204.09 L325.06,200.29 L325.58,196.71 L326.11,193.42 L326.64,190.21 L327.17,186.89 L327.70,183.52 L328.23,180.15 L328.75,176.79 L329.28,173.44 L329.81,170.11 L330.34,166.85 L330.87,163.66 L331.40,160.53 L331.92,157.45 L332.45,154.42 L332.98,151.43 L333.51,148.49 L334.04,145.60 L334.57,142.78 L335.09,140.02 L335.62,137.35 L336.15,134.73 L336.68,132.16 L337.21,129.55 L337.74,126.94 L338.26,124.42 L338.79,122.12 L339.32,120.08 L339.85,118.17 L340.38,116.37 L340.91,114.65 L341.43,113.01 L341.96,111.42 L342.49,109.87 L343.02,108.34 L343.55,106.81 L344.08,105.27 L344.60,103.70 L345.13,102.10 L345.66,100.51 L346.19,98.95 L346.72,97.46 L347.25,96.07 L347.77,94.81 L348.30,93.66 L348.83,92.56 L349.36,91.48 L349.89,90.44 L350.42,89.43 L350.94,88.46 L351.47,87.51 L352.00,86.61 L352.53,85.73 L353.06,84.90 L353.59,84.09 L354.11,83.32 L354.64,82.59 L355.17,81.89 L355.70,81.22 L356.23,80.59 L356.76,79.98 L357.28,79.39 L357.81,78.82 L358.34,78.26 L358.87,77.73 L359.40,77.22 L359.93,76.72 L360.45,76.24 L360.98,75.79 L361.51,75.35 L362.04,74.93 L362.57,74.53 L363.10,74.15 L363.62,73.79 L364.15,73.45 L364.68,73.12 L365.21,72.80 L365.74,72.49 L366.27,72.19 L366.79,71.90 L367.32,71.63 L367.85,71.36 L368.38,71.10 L368.91,70.85 L369.44,70.61 L369.96,70.38 L370.49,70.16 L371.02,69.94 L371.55,69.73 L372.08,69.53 L372.61,69.34 L373.13,69.14 L373.66,68.95 L374.19,68.77 L374.72,68.59 L375.25,68.41 L375.77,68.24 L376.30,68.08 L376.83,67.93 L377.36,67.78 L377.89,67.64 L378.42,67.51 L378.94,67.38 L379.47,67.27 L380.00,67.16 L380.53,67.06 L381.06,66.96 L381.59,66.86 L382.11,66.77 L382.64,66.68 L383.17,66.59 L383.70,66.51 L384.23,66.43 L384.76,66.36 L385.28,66.29 L385.81,66.22 L386.34,66.16 L386.87,66.10 L387.40,66.05 L387.93,66.00 L388.45,65.95 L388.98,65.90 L389.51,65.86 L390.04,65.81 L390.57,65.76 L391.10,65.72 L391.62,65.68 L392.15,65.63 L392.68,65.59 L393.21,65.55 L393.74,65.51 L394.27,65.47 L394.79,65.44 L395.32,65.40 L395.85,65.37 L396.38,65.33 L396.91,65.30 L397.44,65.27 L397.96,65.24 L398.49,65.21 L399.02,65.19 L399.55,65.16 L400.08,65.14 L400.61,65.11 L401.13,65.09 L401.66,65.07 L402.19,65.05 L402.72,65.04 L403.25,65.02 L403.78,65.01 L404.30,64.99 L404.83,64.98 L405.36,64.97 L405.89,64.95 L406.42,64.94 L406.95,64.93 L407.47,64.91 L408.00,64.90 L408.53,64.89 L409.06,64.88 L409.59,64.87 L410.12,64.86 L410.64,64.84 L411.17,64.83 L411.70,64.82 L412.23,64.82 L412.76,64.81 L413.29,64.80 L413.81,64.79 L414.34,64.78 L414.87,64.78 L415.40,64.77 L415.93,64.76 L416.46,64.76 L416.98,64.76 L417.51,64.75 L418.04,64.75 L418.57,64.75 L419.10,64.75 L419.63,64.74 L420.15,64.75 L420.68,64.75 L421.21,64.75 L421.74,64.75 L422.27,64.75 L422.80,64.76 L423.32,64.76 L423.85,64.77 L424.38,64.77 L424.91,64.78 L425.44,64.78 L425.96,64.79 L426.49,64.80 L427.02,64.81 L427.55,64.82 L428.08,64.82 L428.61,64.83 L429.13,64.84 L429.66,64.85 L430.19,64.86 L430.72,64.87 L431.25,64.88 L431.78,64.89 L432.30,64.91 L432.83,64.92 L433.36,64.93 L433.89,64.94 L434.42,64.95 L434.95,64.96 L435.47,64.97 L436.00,64.99 L436.53,65.00 L437.06,65.01 L437.59,65.02 L438.12,65.03 L438.64,65.04 L439.17,65.05 L439.70,65.07 L440.23,65.08 L440.76,65.09 L441.29,65.10 L441.81,65.11 L442.34,65.12 L442.87,65.13 L443.40,65.14 L443.93,65.15 L444.46,65.16 L444.98,65.17 L445.51,65.18 L446.04,65.19 L446.57,65.20 L447.10,65.21 L447.63,65.22 L448.15,65.23 L448.68,65.24 L449.21,65.25 L449.74,65.26 L450.27,65.27 L450.80,65.29 L451.32,65.30 L451.85,65.31 L452.38,65.32 L452.91,65.33 L453.44,65.34 L453.97,65.35 L454.49,65.36 L455.02,65.37 L455.55,65.39 L456.08,65.40 L456.61,65.41 L457.14,65.42 L457.66,65.43 L458.19,65.44 L458.72,65.46 L459.25,65.47 L459.78,65.48 L460.31,65.49 L460.83,65.50 L461.36,65.52 L461.89,65.53 L462.42,65.54 L462.95,65.55 L463.48,65.57 L464.00,65.58 L464.53,65.59 L465.06,65.61 L465.59,65.62 L466.12,65.63 L466.65,65.65 L467.17,65.66 L467.70,65.67 L468.23,65.69 L468.76,65.70 L469.29,65.71 L469.82,65.73 L470.34,65.74 L470.87,65.76 L471.40,65.77 L471.93,65.78 L472.46,65.80 L472.99,65.81 L473.51,65.83 L474.04,65.84 L474.57,65.86 L475.10,65.87 L475.63,65.89 L476.15,65.90 L476.68,65.92 L477.21,65.93 L477.74,65.95 L478.27,65.97 L478.80,65.98 L479.32,66.00 L479.85,66.02 L480.38,66.03 L480.91,66.05 L481.44,66.07 L481.97,66.08 L482.49,66.10 L483.02,66.12 L483.55,66.13 L484.08,66.15 L484.61,66.17 L485.14,66.19 L485.66,66.21 L486.19,66.23 L486.72,66.25 L487.25,66.27 L487.78,66.29 L488.31,66.31 L488.83,66.34 L489.36,66.36 L489.89,66.38 L490.42,66.41 L490.95,66.43 L491.48,66.46 L492.00,66.48 L492.53,66.51 L493.06,66.53 L493.59,66.56 L494.12,66.59 L494.65,66.61 L495.17,66.64 L495.70,66.66 L496.23,66.69 L496.76,66.72 L497.29,66.74 L497.82,66.77 L498.34,66.80 L498.87,66.82 L499.40,66.85 L499.93,66.87 L500.46,66.90 L500.99,66.92 L501.51,66.95 L502.04,66.98 L502.57,67.00 L503.10,67.03 L503.63,67.05 L504.16,67.08 L504.68,67.11 L505.21,67.13 L505.74,67.16 L506.27,67.19 L506.80,67.21 L507.33,67.24 L507.85,67.26 L508.38,67.29 L508.91,67.32 L509.44,67.34 L509.97,67.37 L510.50,67.40 L511.02,67.42 L511.55,67.45 L512.08,67.48 L512.61,67.51 L513.14,67.53 L513.67,67.56 L514.19,67.59 L514.72,67.61 L515.25,67.64 L515.78,67.67 L516.31,67.70 L516.84,67.72 L517.36,67.75 L517.89,67.78 L518.42,67.81 L518.95,67.84 L519.48,67.86 L520.01,67.89 L520.53,67.92 L521.06,67.95 L521.59,67.98 L522.12,68.00 L522.65,68.03 L523.18,68.06 L523.70,68.09 L524.23,68.12 L524.76,68.15 L525.29,68.18 L525.82,68.21 L526.34,68.23 L526.87,68.26 L527.40,68.29 L527.93,68.32 L528.46,68.35 L528.99,68.38 L529.51,68.41 L530.04,68.44 L530.57,68.47 L531.10,68.50 L531.63,68.53 L532.16,68.56 L532.68,68.59 L533.21,68.62 L533.74,68.65 L534.27,68.68 L534.80,68.71" fill="none" stroke="#17612b" stroke-width="1.7"/>
<path d="M327.04,63.49 L327.57,63.39 L328.09,63.30 L328.61,63.20 L329.13,63.11 L329.65,63.01 L330.17,62.92 L330.69,62.83 L331.21,62.74 L331.73,62.65 L332.25,62.56 L332.77,62.47 L333.29,62.38 L333.81,62.29 L334.33,62.20 L334.86,62.11 L335.38,62.03 L335.90,61.94 L336.42,61.86 L336.94,61.77 L337.46,61.69 L337.98,61.61 L338.50,61.53 L339.02,61.45 L339.54,61.37 L340.06,61.29 L340.58,61.22 L341.10,61.14 L341.62,61.07 L342.14,61.00 L342.67,60.93 L343.19,60.86 L343.71,60.79 L344.23,60.72 L344.75,60.65 L345.27,60.59 L345.79,60.53 L346.31,60.46 L346.83,60.40 L347.35,60.34 L347.87,60.29 L348.39,60.23 L348.91,60.17 L349.43,60.12 L349.95,60.06 L350.48,60.00 L351.00,59.95 L351.52,59.89 L352.04,59.83 L352.56,59.78 L353.08,59.72 L353.60,59.66 L354.12,59.61 L354.64,59.55 L355.16,59.49 L355.68,59.44 L356.20,59.38 L356.72,59.32 L357.24,59.27 L357.77,59.22 L358.29,59.16 L358.81,59.11 L359.33,59.05 L359.85,59.00 L360.37,58.95 L360.89,58.90 L361.41,58.85 L361.93,58.80 L362.45,58.75 L362.97,58.70 L363.49,58.65 L364.01,58.61 L364.53,58.56 L365.05,58.52 L365.58,58.48 L366.10,58.43 L366.62,58.39 L367.14,58.35 L367.66,58.31 L368.18,58.28 L368.70,58.24 L369.22,58.21 L369.74,58.17 L370.26,58.14 L370.78,58.11 L371.30,58.08 L371.82,58.05 L372.34,58.03 L372.87,58.00 L373.39,57.98 L373.91,57.96 L374.43,57.94 L374.95,57.92 L375.47,57.91 L375.99,57.90 L376.51,57.88 L377.03,57.87 L377.55,57.87 L378.07,57.86 L378.59,57.85 L379.11,57.85 L379.63,57.84 L380.15,57.84 L380.68,57.83 L381.20,57.83 L381.72,57.82 L382.24,57.82 L382.76,57.81 L383.28,57.81 L383.80,57.80 L384.32,57.80 L384.84,57.79 L385.36,57.79 L385.88,57.79 L386.40,57.78 L386.92,57.78 L387.44,57.77 L387.96,57.77 L388.49,57.76 L389.01,57.76 L389.53,57.75 L390.05,57.75 L390.57,57.75 L391.09,57.74 L391.61,57.74 L392.13,57.73 L392.65,57.73 L393.17,57.73 L393.69,57.72 L394.21,57.72 L394.73,57.72 L395.25,57.71 L395.78,57.71 L396.30,57.70 L396.82,57.70 L397.34,57.70 L397.86,57.69 L398.38,57.69 L398.90,57.69 L399.42,57.69 L399.94,57.68 L400.46,57.68 L400.98,57.68 L401.50,57.67 L402.02,57.67 L402.54,57.67 L403.06,57.66 L403.59,57.66 L404.11,57.66 L404.63,57.66 L405.15,57.65 L405.67,57.65 L406.19,57.65 L406.71,57.65 L407.23,57.64 L407.75,57.64 L408.27,57.64 L408.79,57.64 L409.31,57.64 L409.83,57.63 L410.35,57.63 L410.88,57.63 L411.40,57.63 L411.92,57.63 L412.44,57.62 L412.96,57.62 L413.48,57.62 L414.00,57.62 L414.52,57.62 L415.04,57.62 L415.56,57.61 L416.08,57.61 L416.60,57.61 L417.12,57.61 L417.64,57.61 L418.16,57.61 L418.69,57.61 L419.21,57.61 L419.73,57.60 L420.25,57.60 L420.77,57.60 L421.29,57.60 L421.81,57.60 L422.33,57.60 L422.85,57.60 L423.37,57.60 L423.89,57.60 L424.41,57.60 L424.93,57.60 L425.45,57.60 L425.97,57.60 L426.50,57.60 L427.02,57.60 L427.54,57.60 L428.06,57.59 L428.58,57.59 L429.10,57.59 L429.62,57.59 L430.14,57.59 L430.66,57.60 L431.18,57.60 L431.70,57.60 L432.22,57.60 L432.74,57.61 L433.26,57.61 L433.79,57.62 L434.31,57.63 L434.83,57.64 L435.35,57.64 L435.87,57.65 L436.39,57.66 L436.91,57.68 L437.43,57.69 L437.95,57.70 L438.47,57.71 L438.99,57.73 L439.51,57.74 L440.03,57.76 L440.55,57.78 L441.07,57.79 L441.60,57.81 L442.12,57.83 L442.64,57.85 L443.16,57.87 L443.68,57.89 L444.20,57.91 L444.72,57.93 L445.24,57.95 L445.76,57.98 L446.28,58.00 L446.80,58.02 L447.32,58.05 L447.84,58.07 L448.36,58.09 L448.89,58.12 L449.41,58.15 L449.93,58.17 L450.45,58.20 L450.97,58.22 L451.49,58.25 L452.01,58.28 L452.53,58.31 L453.05,58.34 L453.57,58.36 L454.09,58.39 L454.61,58.42 L455.13,58.45 L455.65,58.48 L456.17,58.51 L456.70,58.54 L457.22,58.57 L457.74,58.60 L458.26,58.63 L458.78,58.66 L459.30,58.69 L459.82,58.72 L460.34,58.75 L460.86,58.78 L461.38,58.81 L461.90,58.84 L462.42,58.88 L462.94,58.91 L463.46,58.94 L463.98,58.97 L464.51,59.00 L465.03,59.03 L465.55,59.06 L466.07,59.09 L466.59,59.12 L467.11,59.15 L467.63,59.18 L468.15,59.21 L468.67,59.24 L469.19,59.27 L469.71,59.30 L470.23,59.33 L470.75,59.36 L471.27,59.39 L471.80,59.42 L472.32,59.45 L472.84,59.47 L473.36,59.50 L473.88,59.53 L474.40,59.56 L474.92,59.58 L475.44,59.61 L475.96,59.63 L476.48,59.66 L477.00,59.68 L477.52,59.71 L478.04,59.73 L478.56,59.76 L479.08,59.78 L479.61,59.80 L480.13,59.82 L480.65,59.85 L481.17,59.87 L481.69,59.89 L482.21,59.91 L482.73,59.93 L483.25,59.95 L483.77,59.96 L484.29,59.98 L484.81,60.00 L485.33,60.01 L485.85,60.03 L486.37,60.05 L486.90,60.06 L487.42,60.08 L487.94,60.09 L488.46,60.11 L488.98,60.13 L489.50,60.14 L490.02,60.16 L490.54,60.17 L491.06,60.19 L491.58,60.20 L492.10,60.22 L492.62,60.24 L493.14,60.25 L493.66,60.27 L494.18,60.28 L494.71,60.30 L495.23,60.31 L495.75,60.33 L496.27,60.34 L496.79,60.36 L497.31,60.37 L497.83,60.39 L498.35,60.40 L498.87,60.42 L499.39,60.43 L499.91,60.44 L500.43,60.46 L500.95,60.47 L501.47,60.49 L501.99,60.50 L502.52,60.52 L503.04,60.53 L503.56,60.54 L504.08,60.56 L504.60,60.57 L505.12,60.58 L505.64,60.60 L506.16,60.61 L506.68,60.63 L507.20,60.64 L507.72,60.65 L508.24,60.67 L508.76,60.68 L509.28,60.69 L509.81,60.70 L510.33,60.72 L510.85,60.73 L511.37,60.74 L511.89,60.76 L512.41,60.77 L512.93,60.78 L513.45,60.79 L513.97,60.81 L514.49,60.82 L515.01,60.83 L515.53,60.84 L516.05,60.85 L516.57,60.87 L517.09,60.88 L517.62,60.89 L518.14,60.90 L518.66,60.91 L519.18,60.92 L519.70,60.93 L520.22,60.95 L520.74,60.96 L521.26,60.97 L521.78,60.98 L522.30,60.99 L522.82,61.00 L523.34,61.01 L523.86,61.02 L524.38,61.03 L524.90,61.04 L525.43,61.05 L525.95,61.06 L526.47,61.07 L526.99,61.08 L527.51,61.09 L528.03,61.10 L528.55,61.11 L529.07,61.12 L529.59,61.13 L530.11,61.13 L530.63,61.14 L531.15,61.15 L531.67,61.16 L532.19,61.17 L532.72,61.18 L533.24,61.19 L533.76,61.19 L534.28,61.20 L534.80,61.21" fill="none" stroke="#b6c42a" stroke-width="1.7" stroke-dasharray="5,4"/>
<path d="M325.99,58.93 L326.51,58.27 L327.04,57.57 L327.56,56.86 L328.08,56.21 L328.61,55.64 L329.13,55.21 L329.65,54.96 L330.18,54.92 L330.70,54.92 L331.22,54.92 L331.75,54.92 L332.27,54.92 L332.79,54.92 L333.32,54.92 L333.84,54.92 L334.36,54.92 L334.89,54.92 L335.41,54.92 L335.93,54.92 L336.46,54.92 L336.98,54.92 L337.50,54.92 L338.03,54.92 L338.55,54.92 L339.07,54.92 L339.60,54.92 L340.12,54.92 L340.64,54.92 L341.17,54.92 L341.69,54.92 L342.21,54.92 L342.74,54.92 L343.26,54.92 L343.78,54.92 L344.31,54.92 L344.83,54.92 L345.35,54.92 L345.88,54.92 L346.40,54.92 L346.92,54.92 L347.45,54.92 L347.97,54.92 L348.49,54.92 L349.02,54.92 L349.54,54.92 L350.06,54.93 L350.59,54.93 L351.11,54.94 L351.63,54.94 L352.16,54.95 L352.68,54.96 L353.20,54.97 L353.73,54.98 L354.25,54.99 L354.77,55.00 L355.30,55.01 L355.82,55.02 L356.34,55.03 L356.87,55.04 L357.39,55.05 L357.91,55.07 L358.44,55.08 L358.96,55.10 L359.48,55.11 L360.01,55.13 L360.53,55.14 L361.05,55.16 L361.58,55.17 L362.10,55.19 L362.62,55.21 L363.15,55.22 L363.67,55.24 L364.19,55.26 L364.72,55.28 L365.24,55.29 L365.76,55.31 L366.29,55.33 L366.81,55.35 L367.33,55.37 L367.86,55.38 L368.38,55.40 L368.90,55.42 L369.43,55.44 L369.95,55.46 L370.47,55.48 L371.00,55.50 L371.52,55.51 L372.04,55.53 L372.57,55.55 L373.09,55.57 L373.61,55.59 L374.14,55.60 L374.66,55.62 L375.18,55.64 L375.71,55.65 L376.23,55.67 L376.75,55.69 L377.28,55.70 L377.80,55.72 L378.32,55.73 L378.85,55.75 L379.37,55.76 L379.89,55.78 L380.42,55.79 L380.94,55.81 L381.46,55.83 L381.99,55.84 L382.51,55.86 L383.03,55.87 L383.56,55.89 L384.08,55.90 L384.60,55.92 L385.13,55.94 L385.65,55.95 L386.17,55.97 L386.70,55.98 L387.22,56.00 L387.74,56.02 L388.27,56.03 L388.79,56.05 L389.31,56.07 L389.84,56.08 L390.36,56.10 L390.88,56.12 L391.41,56.13 L391.93,56.15 L392.45,56.16 L392.98,56.18 L393.50,56.20 L394.02,56.21 L394.55,56.23 L395.07,56.25 L395.59,56.27 L396.12,56.28 L396.64,56.30 L397.16,56.32 L397.69,56.33 L398.21,56.35 L398.73,56.37 L399.26,56.38 L399.78,56.40 L400.30,56.42 L400.83,56.44 L401.35,56.45 L401.87,56.47 L402.40,56.49 L402.92,56.51 L403.44,56.52 L403.97,56.54 L404.49,56.56 L405.01,56.58 L405.54,56.59 L406.06,56.61 L406.58,56.63 L407.11,56.65 L407.63,56.67 L408.15,56.68 L408.68,56.70 L409.20,56.72 L409.72,56.74 L410.25,56.76 L410.77,56.77 L411.29,56.79 L411.82,56.81 L412.34,56.83 L412.86,56.85 L413.39,56.86 L413.91,56.88 L414.43,56.90 L414.96,56.92 L415.48,56.94 L416.00,56.96 L416.53,56.97 L417.05,56.99 L417.57,57.01 L418.10,57.03 L418.62,57.05 L419.14,57.07 L419.67,57.09 L420.19,57.10 L420.71,57.12 L421.24,57.14 L421.76,57.16 L422.28,57.18 L422.81,57.20 L423.33,57.22 L423.85,57.24 L424.38,57.26 L424.90,57.27 L425.42,57.29 L425.95,57.31 L426.47,57.33 L426.99,57.35 L427.52,57.37 L428.04,57.39 L428.56,57.41 L429.09,57.43 L429.61,57.45 L430.13,57.47 L430.66,57.49 L431.18,57.51 L431.70,57.53 L432.23,57.55 L432.75,57.57 L433.27,57.59 L433.80,57.61 L434.32,57.63 L434.84,57.65 L435.37,57.67 L435.89,57.69 L436.41,57.71 L436.94,57.73 L437.46,57.75 L437.98,57.78 L438.51,57.80 L439.03,57.82 L439.55,57.84 L440.08,57.86 L440.60,57.89 L441.12,57.91 L441.65,57.93 L442.17,57.95 L442.69,57.98 L443.22,58.00 L443.74,58.02 L444.26,58.05 L444.79,58.07 L445.31,58.09 L445.83,58.12 L446.36,58.14 L446.88,58.16 L447.40,58.19 L447.93,58.21 L448.45,58.23 L448.97,58.26 L449.50,58.28 L450.02,58.30 L450.54,58.33 L451.07,58.35 L451.59,58.38 L452.11,58.40 L452.64,58.42 L453.16,58.45 L453.68,58.47 L454.21,58.49 L454.73,58.52 L455.25,58.54 L455.78,58.57 L456.30,58.59 L456.82,58.61 L457.35,58.64 L457.87,58.66 L458.39,58.68 L458.92,58.71 L459.44,58.73 L459.96,58.75 L460.49,58.78 L461.01,58.80 L461.53,58.82 L462.06,58.85 L462.58,58.87 L463.10,58.89 L463.63,58.92 L464.15,58.94 L464.67,58.96 L465.20,58.99 L465.72,59.01 L466.24,59.03 L466.77,59.05 L467.29,59.08 L467.81,59.10 L468.34,59.12 L468.86,59.14 L469.38,59.16 L469.91,59.19 L470.43,59.21 L470.95,59.23 L471.48,59.25 L472.00,59.27 L472.52,59.29 L473.05,59.31 L473.57,59.33 L474.09,59.35 L474.62,59.37 L475.14,59.39 L475.66,59.41 L476.19,59.43 L476.71,59.45 L477.23,59.47 L477.76,59.49 L478.28,59.51 L478.80,59.53 L479.33,59.55 L479.85,59.57 L480.37,59.59 L480.90,59.60 L481.42,59.62 L481.94,59.64 L482.47,59.66 L482.99,59.67 L483.51,59.69 L484.04,59.71 L484.56,59.72 L485.08,59.74 L485.61,59.75 L486.13,59.77 L486.65,59.79 L487.18,59.80 L487.70,59.82 L488.22,59.83 L488.75,59.85 L489.27,59.86 L489.79,59.88 L490.32,59.90 L490.84,59.91 L491.36,59.93 L491.89,59.94 L492.41,59.96 L492.93,59.97 L493.46,59.99 L493.98,60.00 L494.50,60.02 L495.03,60.03 L495.55,60.05 L496.07,60.06 L496.60,60.08 L497.12,60.09 L497.64,60.11 L498.17,60.12 L498.69,60.13 L499.21,60.15 L499.74,60.16 L500.26,60.18 L500.78,60.19 L501.31,60.21 L501.83,60.22 L502.35,60.23 L502.88,60.25 L503.40,60.26 L503.92,60.28 L504.45,60.29 L504.97,60.30 L505.49,60.32 L506.02,60.33 L506.54,60.34 L507.06,60.36 L507.59,60.37 L508.11,60.38 L508.63,60.40 L509.16,60.41 L509.68,60.42 L510.20,60.44 L510.72,60.45 L511.25,60.46 L511.77,60.47 L512.29,60.49 L512.82,60.50 L513.34,60.51 L513.86,60.52 L514.39,60.54 L514.91,60.55 L515.43,60.56 L515.96,60.57 L516.48,60.58 L517.00,60.60 L517.53,60.61 L518.05,60.62 L518.57,60.63 L519.10,60.64 L519.62,60.65 L520.14,60.67 L520.67,60.68 L521.19,60.69 L521.71,60.70 L522.24,60.71 L522.76,60.72 L523.28,60.73 L523.81,60.74 L524.33,60.75 L524.85,60.76 L525.38,60.77 L525.90,60.78 L526.42,60.79 L526.95,60.80 L527.47,60.81 L527.99,60.82 L528.52,60.83 L529.04,60.84 L529.56,60.85 L530.09,60.86 L530.61,60.87 L531.13,60.88 L531.66,60.89 L532.18,60.90 L532.70,60.91 L533.23,60.92 L533.75,60.93 L534.27,60.93 L534.80,60.94" fill="none" stroke="#f8b548" stroke-width="1.8" stroke-dasharray="1.6,2.4"/>
<path d="M325.99,58.40 L326.51,57.69 L327.04,56.94 L327.56,56.19 L328.08,55.49 L328.61,54.89 L329.13,54.43 L329.65,54.16 L330.18,54.11 L330.70,54.11 L331.22,54.12 L331.75,54.12 L332.27,54.13 L332.79,54.13 L333.32,54.14 L333.84,54.15 L334.36,54.16 L334.89,54.16 L335.41,54.18 L335.93,54.19 L336.46,54.20 L336.98,54.21 L337.50,54.23 L338.03,54.24 L338.55,54.25 L339.07,54.27 L339.60,54.28 L340.12,54.30 L340.64,54.31 L341.17,54.33 L341.69,54.35 L342.21,54.36 L342.74,54.38 L343.26,54.39 L343.78,54.41 L344.31,54.43 L344.83,54.44 L345.35,54.46 L345.88,54.47 L346.40,54.49 L346.92,54.50 L347.45,54.52 L347.97,54.53 L348.49,54.54 L349.02,54.56 L349.54,54.57 L350.06,54.59 L350.59,54.60 L351.11,54.61 L351.63,54.63 L352.16,54.64 L352.68,54.66 L353.20,54.67 L353.73,54.69 L354.25,54.70 L354.77,54.72 L355.30,54.73 L355.82,54.75 L356.34,54.76 L356.87,54.78 L357.39,54.80 L357.91,54.81 L358.44,54.83 L358.96,54.84 L359.48,54.86 L360.01,54.87 L360.53,54.89 L361.05,54.91 L361.58,54.92 L362.10,54.94 L362.62,54.96 L363.15,54.97 L363.67,54.99 L364.19,55.01 L364.72,55.02 L365.24,55.04 L365.76,55.06 L366.29,55.07 L366.81,55.09 L367.33,55.11 L367.86,55.12 L368.38,55.14 L368.90,55.16 L369.43,55.17 L369.95,55.19 L370.47,55.21 L371.00,55.23 L371.52,55.24 L372.04,55.26 L372.57,55.28 L373.09,55.29 L373.61,55.31 L374.14,55.33 L374.66,55.35 L375.18,55.36 L375.71,55.38 L376.23,55.40 L376.75,55.42 L377.28,55.43 L377.80,55.45 L378.32,55.47 L378.85,55.48 L379.37,55.50 L379.89,55.52 L380.42,55.54 L380.94,55.55 L381.46,55.57 L381.99,55.59 L382.51,55.61 L383.03,55.62 L383.56,55.64 L384.08,55.66 L384.60,55.68 L385.13,55.69 L385.65,55.71 L386.17,55.73 L386.70,55.75 L387.22,55.77 L387.74,55.78 L388.27,55.80 L388.79,55.82 L389.31,55.84 L389.84,55.86 L390.36,55.87 L390.88,55.89 L391.41,55.91 L391.93,55.93 L392.45,55.95 L392.98,55.96 L393.50,55.98 L394.02,56.00 L394.55,56.02 L395.07,56.04 L395.59,56.06 L396.12,56.07 L396.64,56.09 L397.16,56.11 L397.69,56.13 L398.21,56.15 L398.73,56.17 L399.26,56.19 L399.78,56.20 L400.30,56.22 L400.83,56.24 L401.35,56.26 L401.87,56.28 L402.40,56.30 L402.92,56.32 L403.44,56.34 L403.97,56.36 L404.49,56.37 L405.01,56.39 L405.54,56.41 L406.06,56.43 L406.58,56.45 L407.11,56.47 L407.63,56.49 L408.15,56.51 L408.68,56.53 L409.20,56.55 L409.72,56.56 L410.25,56.58 L410.77,56.60 L411.29,56.62 L411.82,56.64 L412.34,56.66 L412.86,56.68 L413.39,56.70 L413.91,56.72 L414.43,56.74 L414.96,56.76 L415.48,56.78 L416.00,56.80 L416.53,56.82 L417.05,56.84 L417.57,56.86 L418.10,56.88 L418.62,56.89 L419.14,56.91 L419.67,56.93 L420.19,56.95 L420.71,56.97 L421.24,56.99 L421.76,57.01 L422.28,57.03 L422.81,57.05 L423.33,57.07 L423.85,57.09 L424.38,57.11 L424.90,57.13 L425.42,57.15 L425.95,57.17 L426.47,57.19 L426.99,57.21 L427.52,57.23 L428.04,57.25 L428.56,57.27 L429.09,57.29 L429.61,57.31 L430.13,57.33 L430.66,57.35 L431.18,57.37 L431.70,57.39 L432.23,57.41 L432.75,57.44 L433.27,57.46 L433.80,57.48 L434.32,57.50 L434.84,57.52 L435.37,57.54 L435.89,57.56 L436.41,57.59 L436.94,57.61 L437.46,57.63 L437.98,57.65 L438.51,57.67 L439.03,57.70 L439.55,57.72 L440.08,57.74 L440.60,57.76 L441.12,57.79 L441.65,57.81 L442.17,57.83 L442.69,57.86 L443.22,57.88 L443.74,57.90 L444.26,57.92 L444.79,57.95 L445.31,57.97 L445.83,57.99 L446.36,58.02 L446.88,58.04 L447.40,58.06 L447.93,58.09 L448.45,58.11 L448.97,58.14 L449.50,58.16 L450.02,58.18 L450.54,58.21 L451.07,58.23 L451.59,58.25 L452.11,58.28 L452.64,58.30 L453.16,58.32 L453.68,58.35 L454.21,58.37 L454.73,58.40 L455.25,58.42 L455.78,58.44 L456.30,58.47 L456.82,58.49 L457.35,58.51 L457.87,58.54 L458.39,58.56 L458.92,58.58 L459.44,58.61 L459.96,58.63 L460.49,58.65 L461.01,58.68 L461.53,58.70 L462.06,58.72 L462.58,58.75 L463.10,58.77 L463.63,58.79 L464.15,58.81 L464.67,58.84 L465.20,58.86 L465.72,58.88 L466.24,58.90 L466.77,58.93 L467.29,58.95 L467.81,58.97 L468.34,58.99 L468.86,59.01 L469.38,59.03 L469.91,59.06 L470.43,59.08 L470.95,59.10 L471.48,59.12 L472.00,59.14 L472.52,59.16 L473.05,59.18 L473.57,59.20 L474.09,59.22 L474.62,59.24 L475.14,59.26 L475.66,59.28 L476.19,59.30 L476.71,59.32 L477.23,59.34 L477.76,59.36 L478.28,59.38 L478.80,59.40 L479.33,59.42 L479.85,59.43 L480.37,59.45 L480.90,59.47 L481.42,59.49 L481.94,59.51 L482.47,59.52 L482.99,59.54 L483.51,59.56 L484.04,59.57 L484.56,59.59 L485.08,59.60 L485.61,59.62 L486.13,59.64 L486.65,59.65 L487.18,59.67 L487.70,59.68 L488.22,59.70 L488.75,59.71 L489.27,59.73 L489.79,59.75 L490.32,59.76 L490.84,59.78 L491.36,59.79 L491.89,59.81 L492.41,59.82 L492.93,59.84 L493.46,59.85 L493.98,59.87 L494.50,59.88 L495.03,59.90 L495.55,59.91 L496.07,59.93 L496.60,59.94 L497.12,59.96 L497.64,59.97 L498.17,59.99 L498.69,60.00 L499.21,60.02 L499.74,60.03 L500.26,60.04 L500.78,60.06 L501.31,60.07 L501.83,60.09 L502.35,60.10 L502.88,60.11 L503.40,60.13 L503.92,60.14 L504.45,60.16 L504.97,60.17 L505.49,60.18 L506.02,60.20 L506.54,60.21 L507.06,60.22 L507.59,60.24 L508.11,60.25 L508.63,60.26 L509.16,60.28 L509.68,60.29 L510.20,60.30 L510.72,60.31 L511.25,60.33 L511.77,60.34 L512.29,60.35 L512.82,60.37 L513.34,60.38 L513.86,60.39 L514.39,60.40 L514.91,60.41 L515.43,60.43 L515.96,60.44 L516.48,60.45 L517.00,60.46 L517.53,60.47 L518.05,60.49 L518.57,60.50 L519.10,60.51 L519.62,60.52 L520.14,60.53 L520.67,60.54 L521.19,60.55 L521.71,60.57 L522.24,60.58 L522.76,60.59 L523.28,60.60 L523.81,60.61 L524.33,60.62 L524.85,60.63 L525.38,60.64 L525.90,60.65 L526.42,60.66 L526.95,60.67 L527.47,60.68 L527.99,60.69 L528.52,60.70 L529.04,60.71 L529.56,60.72 L530.09,60.73 L530.61,60.74 L531.13,60.75 L531.66,60.76 L532.18,60.76 L532.70,60.77 L533.23,60.78 L533.75,60.79 L534.27,60.80 L534.80,60.81" fill="none" stroke="#f7892a" stroke-width="1.8" stroke-dasharray="6,2,1.4,2.4"/>
<path d="M325.99,57.59 L326.51,56.74 L327.04,55.85 L327.56,54.96 L328.08,54.13 L328.61,53.42 L329.13,52.88 L329.65,52.56 L330.18,52.51 L330.70,52.51 L331.22,52.51 L331.75,52.51 L332.27,52.51 L332.79,52.51 L333.32,52.51 L333.84,52.51 L334.36,52.51 L334.89,52.51 L335.41,52.51 L335.93,52.51 L336.46,52.51 L336.98,52.51 L337.50,52.51 L338.03,52.51 L338.55,52.51 L339.07,52.51 L339.60,52.51 L340.12,52.51 L340.64,52.51 L341.17,52.51 L341.69,52.51 L342.21,52.51 L342.74,52.51 L343.26,52.51 L343.78,52.51 L344.31,52.51 L344.83,52.51 L345.35,52.51 L345.88,52.51 L346.40,52.51 L346.92,52.51 L347.45,52.52 L347.97,52.52 L348.49,52.53 L349.02,52.54 L349.54,52.55 L350.06,52.56 L350.59,52.57 L351.11,52.58 L351.63,52.60 L352.16,52.61 L352.68,52.62 L353.20,52.64 L353.73,52.66 L354.25,52.67 L354.77,52.69 L355.30,52.71 L355.82,52.73 L356.34,52.75 L356.87,52.77 L357.39,52.79 L357.91,52.82 L358.44,52.84 L358.96,52.86 L359.48,52.89 L360.01,52.91 L360.53,52.93 L361.05,52.96 L361.58,52.99 L362.10,53.01 L362.62,53.04 L363.15,53.07 L363.67,53.09 L364.19,53.12 L364.72,53.15 L365.24,53.18 L365.76,53.20 L366.29,53.23 L366.81,53.26 L367.33,53.29 L367.86,53.32 L368.38,53.35 L368.90,53.37 L369.43,53.40 L369.95,53.43 L370.47,53.46 L371.00,53.49 L371.52,53.52 L372.04,53.55 L372.57,53.57 L373.09,53.60 L373.61,53.63 L374.14,53.66 L374.66,53.68 L375.18,53.71 L375.71,53.74 L376.23,53.77 L376.75,53.79 L377.28,53.82 L377.80,53.84 L378.32,53.87 L378.85,53.89 L379.37,53.92 L379.89,53.94 L380.42,53.97 L380.94,54.00 L381.46,54.02 L381.99,54.05 L382.51,54.08 L383.03,54.11 L383.56,54.13 L384.08,54.16 L384.60,54.19 L385.13,54.22 L385.65,54.25 L386.17,54.28 L386.70,54.31 L387.22,54.34 L387.74,54.37 L388.27,54.40 L388.79,54.43 L389.31,54.46 L389.84,54.49 L390.36,54.52 L390.88,54.55 L391.41,54.58 L391.93,54.62 L392.45,54.65 L392.98,54.68 L393.50,54.71 L394.02,54.74 L394.55,54.78 L395.07,54.81 L395.59,54.84 L396.12,54.87 L396.64,54.91 L397.16,54.94 L397.69,54.97 L398.21,55.00 L398.73,55.04 L399.26,55.07 L399.78,55.10 L400.30,55.14 L400.83,55.17 L401.35,55.20 L401.87,55.24 L402.40,55.27 L402.92,55.30 L403.44,55.34 L403.97,55.37 L404.49,55.41 L405.01,55.44 L405.54,55.47 L406.06,55.51 L406.58,55.54 L407.11,55.57 L407.63,55.61 L408.15,55.64 L408.68,55.67 L409.20,55.71 L409.72,55.74 L410.25,55.77 L410.77,55.81 L411.29,55.84 L411.82,55.87 L412.34,55.91 L412.86,55.94 L413.39,55.97 L413.91,56.01 L414.43,56.04 L414.96,56.07 L415.48,56.10 L416.00,56.14 L416.53,56.17 L417.05,56.20 L417.57,56.23 L418.10,56.26 L418.62,56.29 L419.14,56.33 L419.67,56.36 L420.19,56.39 L420.71,56.42 L421.24,56.45 L421.76,56.48 L422.28,56.51 L422.81,56.54 L423.33,56.57 L423.85,56.60 L424.38,56.63 L424.90,56.66 L425.42,56.69 L425.95,56.71 L426.47,56.74 L426.99,56.77 L427.52,56.80 L428.04,56.83 L428.56,56.85 L429.09,56.88 L429.61,56.91 L430.13,56.93 L430.66,56.96 L431.18,56.98 L431.70,57.01 L432.23,57.04 L432.75,57.06 L433.27,57.09 L433.80,57.12 L434.32,57.14 L434.84,57.17 L435.37,57.19 L435.89,57.22 L436.41,57.25 L436.94,57.27 L437.46,57.30 L437.98,57.32 L438.51,57.35 L439.03,57.37 L439.55,57.40 L440.08,57.43 L440.60,57.45 L441.12,57.48 L441.65,57.50 L442.17,57.53 L442.69,57.55 L443.22,57.58 L443.74,57.60 L444.26,57.63 L444.79,57.65 L445.31,57.68 L445.83,57.70 L446.36,57.73 L446.88,57.75 L447.40,57.78 L447.93,57.80 L448.45,57.83 L448.97,57.85 L449.50,57.88 L450.02,57.90 L450.54,57.93 L451.07,57.95 L451.59,57.98 L452.11,58.00 L452.64,58.02 L453.16,58.05 L453.68,58.07 L454.21,58.10 L454.73,58.12 L455.25,58.14 L455.78,58.17 L456.30,58.19 L456.82,58.21 L457.35,58.24 L457.87,58.26 L458.39,58.28 L458.92,58.31 L459.44,58.33 L459.96,58.35 L460.49,58.38 L461.01,58.40 L461.53,58.42 L462.06,58.44 L462.58,58.47 L463.10,58.49 L463.63,58.51 L464.15,58.53 L464.67,58.56 L465.20,58.58 L465.72,58.60 L466.24,58.62 L466.77,58.64 L467.29,58.66 L467.81,58.69 L468.34,58.71 L468.86,58.73 L469.38,58.75 L469.91,58.77 L470.43,58.79 L470.95,58.81 L471.48,58.83 L472.00,58.85 L472.52,58.87 L473.05,58.89 L473.57,58.91 L474.09,58.93 L474.62,58.95 L475.14,58.97 L475.66,58.99 L476.19,59.01 L476.71,59.03 L477.23,59.05 L477.76,59.06 L478.28,59.08 L478.80,59.10 L479.33,59.12 L479.85,59.14 L480.37,59.16 L480.90,59.17 L481.42,59.19 L481.94,59.21 L482.47,59.23 L482.99,59.24 L483.51,59.26 L484.04,59.28 L484.56,59.29 L485.08,59.31 L485.61,59.33 L486.13,59.34 L486.65,59.36 L487.18,59.38 L487.70,59.39 L488.22,59.41 L488.75,59.42 L489.27,59.44 L489.79,59.46 L490.32,59.47 L490.84,59.49 L491.36,59.50 L491.89,59.52 L492.41,59.53 L492.93,59.55 L493.46,59.57 L493.98,59.58 L494.50,59.60 L495.03,59.61 L495.55,59.63 L496.07,59.64 L496.60,59.66 L497.12,59.67 L497.64,59.69 L498.17,59.70 L498.69,59.72 L499.21,59.73 L499.74,59.75 L500.26,59.76 L500.78,59.78 L501.31,59.79 L501.83,59.81 L502.35,59.82 L502.88,59.83 L503.40,59.85 L503.92,59.86 L504.45,59.88 L504.97,59.89 L505.49,59.91 L506.02,59.92 L506.54,59.93 L507.06,59.95 L507.59,59.96 L508.11,59.97 L508.63,59.99 L509.16,60.00 L509.68,60.01 L510.20,60.03 L510.72,60.04 L511.25,60.05 L511.77,60.07 L512.29,60.08 L512.82,60.09 L513.34,60.11 L513.86,60.12 L514.39,60.13 L514.91,60.14 L515.43,60.16 L515.96,60.17 L516.48,60.18 L517.00,60.19 L517.53,60.20 L518.05,60.22 L518.57,60.23 L519.10,60.24 L519.62,60.25 L520.14,60.26 L520.67,60.27 L521.19,60.28 L521.71,60.30 L522.24,60.31 L522.76,60.32 L523.28,60.33 L523.81,60.34 L524.33,60.35 L524.85,60.36 L525.38,60.37 L525.90,60.38 L526.42,60.39 L526.95,60.40 L527.47,60.41 L527.99,60.42 L528.52,60.43 L529.04,60.44 L529.56,60.45 L530.09,60.46 L530.61,60.47 L531.13,60.48 L531.66,60.49 L532.18,60.50 L532.70,60.51 L533.23,60.51 L533.75,60.52 L534.27,60.53 L534.80,60.54" fill="none" stroke="#ee2b2b" stroke-width="1.8" stroke-dasharray="4.8,1.6,1.6,2.4,1.6,2.4"/>
</g>
<rect x="318.2" y="43" width="228.20" height="173.40" fill="none" stroke="#2b2b2b" stroke-width="1"/>
<path d="M318.2,216.40 h4 M318.2,203.01 h2.5 M318.2,189.62 h4 M318.2,176.23 h2.5 M318.2,162.84 h4 M318.2,149.45 h2.5 M318.2,136.06 h4 M318.2,122.67 h2.5 M318.2,109.28 h4 M318.2,95.89 h2.5 M318.2,82.50 h4 M318.2,69.11 h2.5 M318.2,55.72 h4 M318.2,42.33 h2.5 M324.00,216.4 v-4 M335.71,216.4 v-2.5 M347.42,216.4 v-4 M359.13,216.4 v-2.5 M370.84,216.4 v-4 M382.56,216.4 v-2.5 M394.27,216.4 v-4 M405.98,216.4 v-2.5 M417.69,216.4 v-4 M429.40,216.4 v-2.5 M441.11,216.4 v-4 M452.82,216.4 v-2.5 M464.53,216.4 v-4 M476.24,216.4 v-2.5 M487.95,216.4 v-4 M499.66,216.4 v-2.5 M511.38,216.4 v-4 M523.09,216.4 v-2.5 M534.80,216.4 v-4" stroke="#2b2b2b" stroke-width="1" fill="none"/>
<text x="313.3" y="220.30" font-size="11.5" text-anchor="end" fill="#111">0</text>
<text x="313.3" y="193.52" font-size="11.5" text-anchor="end" fill="#111">100</text>
<text x="313.3" y="166.74" font-size="11.5" text-anchor="end" fill="#111">200</text>
<text x="313.3" y="139.96" font-size="11.5" text-anchor="end" fill="#111">300</text>
<text x="313.3" y="113.18" font-size="11.5" text-anchor="end" fill="#111">400</text>
<text x="313.3" y="86.40" font-size="11.5" text-anchor="end" fill="#111">500</text>
<text x="313.3" y="59.62" font-size="11.5" text-anchor="end" fill="#111">600</text>
<text x="324.00" y="231.9" font-size="11.5" text-anchor="middle" fill="#111">0</text>
<text x="347.42" y="231.9" font-size="11.5" text-anchor="middle" fill="#111">20</text>
<text x="370.84" y="231.9" font-size="11.5" text-anchor="middle" fill="#111">40</text>
<text x="394.27" y="231.9" font-size="11.5" text-anchor="middle" fill="#111">60</text>
<text x="417.69" y="231.9" font-size="11.5" text-anchor="middle" fill="#111">80</text>
<text x="441.11" y="231.9" font-size="11.5" text-anchor="middle" fill="#111">100</text>
<text x="464.53" y="231.9" font-size="11.5" text-anchor="middle" fill="#111">120</text>
<text x="487.95" y="231.9" font-size="11.5" text-anchor="middle" fill="#111">140</text>
<text x="511.38" y="231.9" font-size="11.5" text-anchor="middle" fill="#111">160</text>
<text x="534.80" y="231.9" font-size="11.5" text-anchor="middle" fill="#111">180</text>
<text transform="translate(288.2,138.9) rotate(-90)" font-size="12" text-anchor="middle" fill="#111">Temperature (°C)</text>
<text x="432.6" y="246.6" font-size="11.5" text-anchor="middle" fill="#111">Time (s)</text>
<text transform="translate(418.8,206.8) scale(0.96,1.1)" font-size="15.5" fill="#111">(b)</text>
<circle cx="424.8" cy="133.6" r="34.6" fill="#c8c8c8" stroke="#383838" stroke-width="1.7"/>
<text x="410.5" y="115.1" font-size="11.7" fill="#111">Slug</text>
<text x="361.8" y="107.5" font-size="11.6" fill="#111">Mold</text>
<line x1="376" y1="112.2" x2="385.98" y2="123.05" stroke="#111" stroke-width="1"/><path d="M389.70,127.10 L383.98,124.21 L387.30,121.16 Z" fill="#111"/>
<line x1="417.4" y1="133.4" x2="432.9" y2="133.4" stroke="#222" stroke-width="0.8" stroke-dasharray="2.2,1.6"/>
<line x1="425.5" y1="133.4" x2="425.5" y2="166.4" stroke="#222" stroke-width="0.8" stroke-dasharray="2,1.6"/>
<line x1="421.9" y1="134.5" x2="421.9" y2="165.5" stroke="#222" stroke-width="0.8" marker-start="url(#ahs)" marker-end="url(#ahs)"/>
<text transform="translate(418.2,150.4) rotate(-90)" font-size="10.6" text-anchor="middle" fill="#111">39mm</text>
<text transform="translate(428.3,150.6) rotate(90)" font-size="6.3" text-anchor="middle" fill="#333" style="stroke:none">19 0.0 0.0</text>
<line x1="425.5" y1="133.3" x2="468.25" y2="99.86" stroke="#111" stroke-width="1"/><path d="M471.40,97.40 L468.90,101.51 L466.81,98.83 Z" fill="#111"/>
<line x1="425.5" y1="149.5" x2="468.19" y2="117.69" stroke="#111" stroke-width="1"/><path d="M471.40,115.30 L468.81,119.35 L466.78,116.63 Z" fill="#111"/>
<line x1="425.5" y1="158" x2="467.11" y2="137.56" stroke="#111" stroke-width="1"/><path d="M470.70,135.80 L467.41,139.31 L465.91,136.26 Z" fill="#111"/>
<line x1="425.5" y1="166.2" x2="466.38" y2="153.67" stroke="#111" stroke-width="1"/><path d="M470.20,152.50 L466.40,155.44 L465.40,152.19 Z" fill="#111"/>
<line x1="425.5" y1="171.4" x2="465.50" y2="170.13" stroke="#111" stroke-width="1"/><path d="M469.50,170.00 L465.06,171.84 L464.95,168.44 Z" fill="#111"/>
<circle cx="425.5" cy="133.3" r="1.6" fill="#e8141c"/>
<circle cx="425.5" cy="149.5" r="1.6" fill="#e8141c"/>
<circle cx="425.5" cy="158" r="1.6" fill="#e8141c"/>
<circle cx="425.5" cy="166.2" r="1.6" fill="#e8141c"/>
<circle cx="425.5" cy="171.4" r="1.6" fill="#e8141c"/>
<text x="475.4" y="101.90" font-size="13.6" fill="#111">1</text>
<text x="475.4" y="120.00" font-size="13.6" fill="#111">2</text>
<text x="475.4" y="139.60" font-size="13.6" fill="#111">3</text>
<text x="475.4" y="157.10" font-size="13.6" fill="#111">4</text>
<text x="475.4" y="174.90" font-size="13.6" fill="#111">5</text>
<line x1="487" y1="97.4" x2="521.5" y2="97.4" stroke="#ee2b2b" stroke-width="1.5" stroke-dasharray="4.8,1.6,1.6,2.4,1.6,2.4"/>
<line x1="487" y1="115.3" x2="521.5" y2="115.3" stroke="#f7892a" stroke-width="1.5" stroke-dasharray="1.2,2.4,6,2.4"/>
<line x1="490.2" y1="133.6" x2="521.5" y2="133.6" stroke="#f8b548" stroke-width="1.5" stroke-dasharray="1.6,4.4"/>
<line x1="487" y1="152" x2="521.5" y2="152" stroke="#b6c42a" stroke-width="1.5" stroke-dasharray="5,4.6"/>
<line x1="487" y1="170.4" x2="521.5" y2="170.4" stroke="#17612b" stroke-width="1.5"/>
</svg>
</body></html>
